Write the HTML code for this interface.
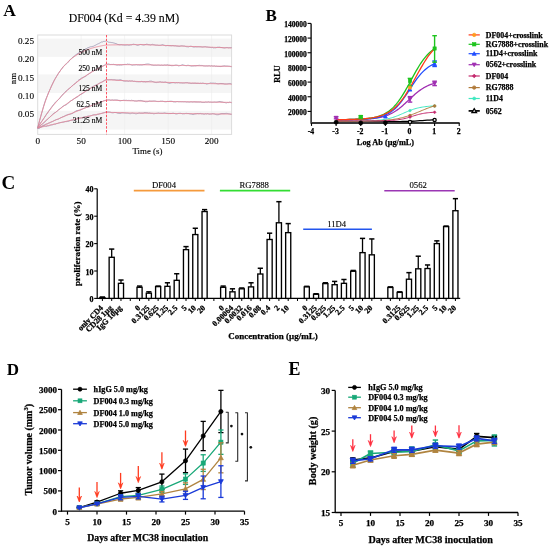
<!DOCTYPE html>
<html><head><meta charset="utf-8"><style>
html,body{margin:0;padding:0;background:#fff;}
svg{display:block;font-family:"Liberation Serif",serif;filter:blur(0.3px);}
</style></head><body>
<svg width="550" height="548" viewBox="0 0 550 548">
<rect x="0" y="0" width="550" height="548" fill="#fff"/>
<text x="3.2" y="15.8" font-size="17.5" font-weight="bold" text-anchor="start" fill="#000" >A</text>
<text x="123.9" y="22.3" font-size="11.8" font-weight="normal" text-anchor="middle" fill="#000" stroke="#000" stroke-width="0.12">DF004 (Kd = 4.39 nM)</text>
<rect x="37.7" y="35" width="193.9" height="99.4" fill="#fff" stroke="none" stroke-width="1.0" />
<rect x="38.2" y="38.6" width="192.9" height="18.3" fill="#f5f5f5" stroke="none" stroke-width="1.0" />
<rect x="38.2" y="74.4" width="192.9" height="18.6" fill="#f5f5f5" stroke="none" stroke-width="1.0" />
<rect x="38.2" y="110.8" width="192.9" height="18.8" fill="#f5f5f5" stroke="none" stroke-width="1.0" />
<line x1="81.17" y1="35" x2="81.17" y2="134.4" stroke="#ededed" stroke-width="0.6" />
<line x1="124.65" y1="35" x2="124.65" y2="134.4" stroke="#ededed" stroke-width="0.6" />
<line x1="168.12" y1="35" x2="168.12" y2="134.4" stroke="#ededed" stroke-width="0.6" />
<line x1="211.6" y1="35" x2="211.6" y2="134.4" stroke="#ededed" stroke-width="0.6" />
<rect x="37.7" y="35" width="193.9" height="99.4" fill="none" stroke="#dcdcdc" stroke-width="1.0" />
<text x="34" y="44.2" font-size="9.2" font-weight="normal" text-anchor="end" fill="#000" stroke="#000" stroke-width="0.12">0.25</text>
<text x="34" y="62" font-size="9.2" font-weight="normal" text-anchor="end" fill="#000" stroke="#000" stroke-width="0.12">0.20</text>
<text x="34" y="80.5" font-size="9.2" font-weight="normal" text-anchor="end" fill="#000" stroke="#000" stroke-width="0.12">0.15</text>
<text x="34" y="98.5" font-size="9.2" font-weight="normal" text-anchor="end" fill="#000" stroke="#000" stroke-width="0.12">0.10</text>
<text x="34" y="116.6" font-size="9.2" font-weight="normal" text-anchor="end" fill="#000" stroke="#000" stroke-width="0.12">0.05</text>
<text x="15.6" y="78.5" font-size="8.9" font-weight="normal" text-anchor="middle" fill="#000" transform="rotate(-90 15.6 78.5)" stroke="#000" stroke-width="0.12">nm</text>
<text x="37.7" y="143.9" font-size="9.2" font-weight="normal" text-anchor="middle" fill="#000" stroke="#000" stroke-width="0.12">0</text>
<text x="81.17" y="143.9" font-size="9.2" font-weight="normal" text-anchor="middle" fill="#000" stroke="#000" stroke-width="0.12">50</text>
<text x="124.65" y="143.9" font-size="9.2" font-weight="normal" text-anchor="middle" fill="#000" stroke="#000" stroke-width="0.12">100</text>
<text x="168.12" y="143.9" font-size="9.2" font-weight="normal" text-anchor="middle" fill="#000" stroke="#000" stroke-width="0.12">150</text>
<text x="211.6" y="143.9" font-size="9.2" font-weight="normal" text-anchor="middle" fill="#000" stroke="#000" stroke-width="0.12">200</text>
<text x="147.5" y="154.2" font-size="8.9" font-weight="normal" text-anchor="middle" fill="#000" stroke="#000" stroke-width="0.12">Time (s)</text>
<polyline points="37.7,128.03 38.68,124.04 39.67,120.42 40.65,116.89 41.63,113.34 42.61,109.87 43.6,106.26 44.58,103.01 45.56,100.09 46.55,97.5 47.53,95.22 48.51,92.65 49.49,90.63 50.48,88.45 51.46,85.95 52.44,84.05 53.43,81.86 54.41,79.89 55.39,78.25 56.37,76.62 57.36,75.09 58.34,73.4 59.32,72.06 60.31,70.7 61.29,69.27 62.27,68.02 63.25,66.7 64.24,65.61 65.22,64.86 66.2,64.03 67.19,63.29 68.17,62.26 69.15,60.99 70.13,59.77 71.12,58.77 72.1,57.79 73.08,56.99 74.07,56.3 75.05,55.43 76.03,54.69 77.01,53.96 78,53.35 78.98,52.76 79.96,52.37 80.95,51.96 81.93,51.4 82.91,50.76 83.89,50.01 84.88,49.29 85.86,48.75 86.84,48.4 87.83,47.73 88.81,47.43 89.79,47.07 90.77,46.74 91.76,46.67 92.74,46.36 93.72,46.13 94.71,45.54 95.69,45.09 96.67,44.5 97.65,44.03 98.64,43.61 99.62,43.1 100.6,42.55 101.59,41.98 102.57,41.94 103.55,41.43 104.53,41.38 105.52,41.2 106.5,40.66 107.46,41.54 108.42,42.1 109.39,42.29 110.35,42.36 111.31,42.55 112.27,42.6 113.24,42.85 114.2,43.08 115.16,43.43 116.12,43.58 117.09,44.15 118.05,44.54 119.01,44.6 119.97,44.94 120.93,44.61 121.9,44.78 122.86,44.97 123.82,44.99 124.78,45.13 125.75,45.09 126.71,45.04 127.67,45.01 128.63,45.24 129.6,45.13 130.56,44.91 131.52,44.85 132.48,44.44 133.44,44.19 134.41,44.4 135.37,44.53 136.33,44.96 137.29,45.32 138.26,45.22 139.22,44.84 140.18,44.49 141.14,44.57 142.11,44.74 143.07,44.99 144.03,45.01 144.99,44.66 145.95,44.36 146.92,44.17 147.88,44.45 148.84,44.72 149.8,44.74 150.77,44.96 151.73,44.53 152.69,44.33 153.65,44.69 154.62,44.86 155.58,45.13 156.54,45.21 157.5,45.2 158.46,45.4 159.43,45.42 160.39,45.34 161.35,45.05 162.31,44.61 163.28,44.93 164.24,45.23 165.2,45.69 166.16,45.78 167.13,45.43 168.09,45.55 169.05,45.62 170.01,45.75 170.97,45.68 171.94,45.81 172.9,45.52 173.86,45.77 174.82,45.86 175.79,45.8 176.75,46.14 177.71,46.17 178.67,46.32 179.64,46.37 180.6,46.03 181.56,45.83 182.52,45.9 183.48,46.02 184.45,46.07 185.41,46.42 186.37,46.66 187.33,46.75 188.3,46.91 189.26,46.57 190.22,46.3 191.18,46.26 192.15,46.62 193.11,46.93 194.07,47.1 195.03,46.84 195.99,46.81 196.96,46.94 197.92,46.76 198.88,46.76 199.84,46.79 200.81,46.82 201.77,46.98 202.73,47.05 203.69,46.86 204.66,46.73 205.62,46.65 206.58,46.99 207.54,47.08 208.5,47.25 209.47,47.36 210.43,47.47 211.39,47.63 212.35,47.42 213.32,47.86 214.28,47.75 215.24,47.83 216.2,47.71 217.17,47.25 218.13,47.31 219.09,47.05 220.05,47.35 221.01,47.44 221.98,47.61 222.94,47.75 223.9,47.96 224.86,47.95 225.83,47.72 226.79,47.51 227.75,47.58 228.71,47.82 229.68,47.63 230.64,47.67 231.6,47.52" fill="none" stroke="#9a94b0" stroke-width="0.8" stroke-linejoin="round" />
<polyline points="37.7,128 38.68,124.01 39.67,120.2 40.65,116.57 41.63,113.11 42.61,109.81 43.6,106.66 44.58,103.65 45.56,100.79 46.55,98.06 47.53,95.46 48.51,92.97 49.49,90.6 50.48,88.35 51.46,86.19 52.44,84.14 53.43,82.18 54.41,80.31 55.39,78.53 56.37,76.83 57.36,75.21 58.34,73.67 59.32,72.2 60.31,70.79 61.29,69.45 62.27,68.17 63.25,66.95 64.24,65.79 65.22,64.69 66.2,63.63 67.19,62.62 68.17,61.66 69.15,60.74 70.13,59.87 71.12,59.04 72.1,58.24 73.08,57.48 74.07,56.76 75.05,56.07 76.03,55.41 77.01,54.79 78,54.19 78.98,53.62 79.96,53.08 80.95,52.56 81.93,52.06 82.91,51.59 83.89,51.14 84.88,50.71 85.86,50.31 86.84,49.92 87.83,49.54 88.81,49.19 89.79,48.85 90.77,48.53 91.76,48.22 92.74,47.93 93.72,47.65 94.71,47.38 95.69,47.13 96.67,46.89 97.65,46.65 98.64,46.43 99.62,46.22 100.6,46.02 101.59,45.83 102.57,45.65 103.55,45.47 104.53,45.31 105.52,45.15 106.5,45 107.46,44.99 108.42,44.97 109.39,44.96 110.35,44.94 111.31,44.93 112.27,44.91 113.24,44.9 114.2,44.89 115.16,44.87 116.12,44.86 117.09,44.84 118.05,44.83 119.01,44.81 119.97,44.8 120.93,44.78 121.9,44.77 122.86,44.76 123.82,44.74 124.78,44.73 125.75,44.71 126.71,44.7 127.67,44.68 128.63,44.67 129.6,44.66 130.56,44.64 131.52,44.63 132.48,44.61 133.44,44.6 134.41,44.6 135.37,44.6 136.33,44.6 137.29,44.6 138.26,44.6 139.22,44.6 140.18,44.51 141.14,44.54 142.11,44.58 143.07,44.62 144.03,44.65 144.99,44.69 145.95,44.73 146.92,44.76 147.88,44.8 148.84,44.84 149.8,44.87 150.77,44.91 151.73,44.95 152.69,44.98 153.65,45.02 154.62,45.06 155.58,45.1 156.54,45.13 157.5,45.17 158.46,45.21 159.43,45.24 160.39,45.28 161.35,45.32 162.31,45.35 163.28,45.39 164.24,45.43 165.2,45.46 166.16,45.5 167.13,45.54 168.09,45.57 169.05,45.61 170.01,45.65 170.97,45.68 171.94,45.72 172.9,45.76 173.86,45.79 174.82,45.83 175.79,45.87 176.75,45.9 177.71,45.94 178.67,45.98 179.64,46.01 180.6,46.05 181.56,46.09 182.52,46.12 183.48,46.16 184.45,46.2 185.41,46.24 186.37,46.27 187.33,46.31 188.3,46.35 189.26,46.38 190.22,46.42 191.18,46.46 192.15,46.49 193.11,46.53 194.07,46.57 195.03,46.6 195.99,46.64 196.96,46.68 197.92,46.71 198.88,46.75 199.84,46.79 200.81,46.82 201.77,46.86 202.73,46.9 203.69,46.93 204.66,46.97 205.62,47.01 206.58,47.04 207.54,47.08 208.5,47.12 209.47,47.15 210.43,47.19 211.39,47.23 212.35,47.26 213.32,47.3 214.28,47.34 215.24,47.37 216.2,47.41 217.17,47.45 218.13,47.49 219.09,47.52 220.05,47.56 221.01,47.6 221.98,47.63 222.94,47.67 223.9,47.71 224.86,47.74 225.83,47.78 226.79,47.82 227.75,47.85 228.71,47.89 229.68,47.93 230.64,47.96 231.6,48" fill="none" stroke="#ea8496" stroke-width="0.8" stroke-linejoin="round" />
<polyline points="37.7,127.32 38.68,125.75 39.67,124.35 40.65,122.75 41.63,121.49 42.61,120.22 43.6,118.7 44.58,117.32 45.56,115.66 46.55,114.07 47.53,112.93 48.51,111.33 49.49,110.04 50.48,108.73 51.46,107.28 52.44,105.95 53.43,104.62 54.41,103.54 55.39,102.19 56.37,101.41 57.36,100.69 58.34,99.65 59.32,98.85 60.31,97.62 61.29,96.16 62.27,95.05 63.25,93.86 64.24,92.98 65.22,92.06 66.2,90.99 67.19,90.29 68.17,89.19 69.15,88.44 70.13,87.94 71.12,86.78 72.1,85.86 73.08,85.18 74.07,84.16 75.05,83.54 76.03,82.69 77.01,81.75 78,80.68 78.98,79.73 79.96,79.36 80.95,78.44 81.93,77.89 82.91,77.6 83.89,77.06 84.88,76.62 85.86,76.21 86.84,75.36 87.83,74.45 88.81,74.03 89.79,73.1 90.77,72.61 91.76,71.78 92.74,71.2 93.72,70.9 94.71,70.13 95.69,69.92 96.67,69.15 97.65,68.67 98.64,67.96 99.62,67.35 100.6,67.06 101.59,66.64 102.57,66.2 103.55,65.57 104.53,65.11 105.52,64.31 106.5,63.76 107.46,64.12 108.42,63.93 109.39,64.22 110.35,64.51 111.31,64.45 112.27,64.49 113.24,64.28 114.2,64.55 115.16,64.66 116.12,64.89 117.09,65.24 118.05,64.9 119.01,65.05 119.97,65.11 120.93,64.9 121.9,65.09 122.86,64.65 123.82,64.6 124.78,64.43 125.75,64.41 126.71,64.43 127.67,64.05 128.63,64.3 129.6,64.28 130.56,64.58 131.52,64.98 132.48,65.19 133.44,64.97 134.41,64.95 135.37,64.84 136.33,64.66 137.29,64.91 138.26,64.87 139.22,65.04 140.18,64.93 141.14,64.95 142.11,65.04 143.07,64.63 144.03,64.64 144.99,64.42 145.95,64.13 146.92,64.1 147.88,63.99 148.84,64.08 149.8,64.3 150.77,64.63 151.73,64.99 152.69,65.15 153.65,65.38 154.62,65.3 155.58,65.27 156.54,65.33 157.5,65.2 158.46,65.15 159.43,65.27 160.39,65.41 161.35,65.16 162.31,65.33 163.28,65.38 164.24,65 165.2,65.1 166.16,65.23 167.13,64.73 168.09,65.13 169.05,65.29 170.01,65.31 170.97,65.61 171.94,65.73 172.9,65.62 173.86,65.55 174.82,65.3 175.79,65.1 176.75,65.16 177.71,65.4 178.67,65.91 179.64,65.7 180.6,65.51 181.56,65.06 182.52,64.66 183.48,65 184.45,65.3 185.41,65.54 186.37,65.71 187.33,65.33 188.3,65.27 189.26,65.54 190.22,65.75 191.18,66.08 192.15,65.99 193.11,65.97 194.07,65.77 195.03,65.81 195.99,65.83 196.96,65.52 197.92,65.5 198.88,65.39 199.84,65.31 200.81,65.51 201.77,65.43 202.73,65.56 203.69,65.91 204.66,65.95 205.62,66.03 206.58,65.88 207.54,65.97 208.5,65.82 209.47,65.76 210.43,66.12 211.39,65.73 212.35,66.02 213.32,66.11 214.28,65.84 215.24,66.39 216.2,66.16 217.17,66.41 218.13,66.45 219.09,66.43 220.05,66.6 221.01,66.49 221.98,66.33 222.94,66.05 223.9,65.94 224.86,65.85 225.83,66.11 226.79,66.05 227.75,66.07 228.71,66.22 229.68,66.31 230.64,66.62 231.6,66.77" fill="none" stroke="#9a94b0" stroke-width="0.8" stroke-linejoin="round" />
<polyline points="37.7,128 38.68,126.37 39.67,124.77 40.65,123.2 41.63,121.66 42.61,120.15 43.6,118.66 44.58,117.21 45.56,115.78 46.55,114.38 47.53,113.01 48.51,111.66 49.49,110.34 50.48,109.05 51.46,107.78 52.44,106.53 53.43,105.31 54.41,104.11 55.39,102.93 56.37,101.78 57.36,100.64 58.34,99.53 59.32,98.44 60.31,97.37 61.29,96.32 62.27,95.3 63.25,94.29 64.24,93.3 65.22,92.32 66.2,91.37 67.19,90.44 68.17,89.52 69.15,88.62 70.13,87.74 71.12,86.87 72.1,86.02 73.08,85.19 74.07,84.37 75.05,83.57 76.03,82.79 77.01,82.02 78,81.26 78.98,80.52 79.96,79.79 80.95,79.07 81.93,78.37 82.91,77.69 83.89,77.01 84.88,76.35 85.86,75.7 86.84,75.07 87.83,74.44 88.81,73.83 89.79,73.23 90.77,72.64 91.76,72.06 92.74,71.49 93.72,70.94 94.71,70.39 95.69,69.86 96.67,69.33 97.65,68.82 98.64,68.31 99.62,67.82 100.6,67.33 101.59,66.85 102.57,66.38 103.55,65.93 104.53,65.48 105.52,65.03 106.5,64.6 107.46,64.6 108.42,64.61 109.39,64.61 110.35,64.61 111.31,64.61 112.27,64.62 113.24,64.62 114.2,64.62 115.16,64.63 116.12,64.63 117.09,64.63 118.05,64.63 119.01,64.64 119.97,64.64 120.93,64.64 121.9,64.65 122.86,64.65 123.82,64.65 124.78,64.65 125.75,64.66 126.71,64.66 127.67,64.66 128.63,64.67 129.6,64.67 130.56,64.67 131.52,64.67 132.48,64.68 133.44,64.68 134.41,64.68 135.37,64.69 136.33,64.69 137.29,64.69 138.26,64.69 139.22,64.7 140.18,64.7 141.14,64.72 142.11,64.74 143.07,64.76 144.03,64.77 144.99,64.79 145.95,64.81 146.92,64.83 147.88,64.85 148.84,64.86 149.8,64.88 150.77,64.9 151.73,64.92 152.69,64.94 153.65,64.95 154.62,64.97 155.58,64.99 156.54,65.01 157.5,65.02 158.46,65.04 159.43,65.06 160.39,65.08 161.35,65.1 162.31,65.11 163.28,65.13 164.24,65.15 165.2,65.17 166.16,65.19 167.13,65.2 168.09,65.22 169.05,65.24 170.01,65.26 170.97,65.27 171.94,65.29 172.9,65.31 173.86,65.33 174.82,65.35 175.79,65.36 176.75,65.38 177.71,65.4 178.67,65.42 179.64,65.44 180.6,65.45 181.56,65.47 182.52,65.49 183.48,65.51 184.45,65.52 185.41,65.54 186.37,65.56 187.33,65.58 188.3,65.6 189.26,65.61 190.22,65.63 191.18,65.65 192.15,65.67 193.11,65.69 194.07,65.7 195.03,65.72 195.99,65.74 196.96,65.76 197.92,65.77 198.88,65.79 199.84,65.81 200.81,65.83 201.77,65.85 202.73,65.86 203.69,65.88 204.66,65.9 205.62,65.92 206.58,65.94 207.54,65.95 208.5,65.97 209.47,65.99 210.43,66.01 211.39,66.02 212.35,66.04 213.32,66.06 214.28,66.08 215.24,66.1 216.2,66.11 217.17,66.13 218.13,66.15 219.09,66.17 220.05,66.19 221.01,66.2 221.98,66.22 222.94,66.24 223.9,66.26 224.86,66.27 225.83,66.29 226.79,66.31 227.75,66.33 228.71,66.35 229.68,66.36 230.64,66.38 231.6,66.4" fill="none" stroke="#ea8496" stroke-width="0.8" stroke-linejoin="round" />
<polyline points="37.7,128.32 38.68,127.27 39.67,126.42 40.65,125.31 41.63,124.58 42.61,123.98 43.6,123.12 44.58,122.35 45.56,121.24 46.55,120.17 47.53,119.18 48.51,118.33 49.49,117.51 50.48,116.58 51.46,115.43 52.44,114.48 53.43,113.56 54.41,112.88 55.39,112.56 56.37,111.7 57.36,110.86 58.34,110.12 59.32,109.02 60.31,108.45 61.29,107.72 62.27,106.66 63.25,106.11 64.24,105.43 65.22,105.14 66.2,104.85 67.19,103.95 68.17,103.25 69.15,102.32 70.13,101.37 71.12,100.7 72.1,100.21 73.08,99.63 74.07,98.76 75.05,98.26 76.03,97.59 77.01,97.08 78,96.66 78.98,95.64 79.96,94.92 80.95,94.3 81.93,93.77 82.91,93.37 83.89,92.52 84.88,91.81 85.86,90.85 86.84,90.45 87.83,89.91 88.81,88.95 89.79,88.75 90.77,87.95 91.76,87.16 92.74,86.64 93.72,86.09 94.71,85.4 95.69,85.21 96.67,85 97.65,84.02 98.64,83.62 99.62,83.07 100.6,82.36 101.59,82.25 102.57,81.69 103.55,81.07 104.53,80.39 105.52,79.85 106.5,79.59 107.46,79.68 108.42,79.85 109.39,79.68 110.35,79.63 111.31,79.48 112.27,79.66 113.24,79.71 114.2,79.65 115.16,79.82 116.12,80.07 117.09,80.07 118.05,80.07 119.01,80.05 119.97,79.66 120.93,79.86 121.9,80.25 122.86,80.71 123.82,81.03 124.78,81.09 125.75,81.16 126.71,81.01 127.67,81.1 128.63,81.28 129.6,80.9 130.56,81.12 131.52,80.94 132.48,80.93 133.44,81.45 134.41,81.34 135.37,81.53 136.33,81.69 137.29,81.73 138.26,81.82 139.22,81.72 140.18,81.85 141.14,81.39 142.11,81.46 143.07,81.95 144.03,81.58 144.99,81.89 145.95,81.93 146.92,81.56 147.88,81.63 148.84,81.41 149.8,81.13 150.77,81.13 151.73,81.18 152.69,81.59 153.65,81.91 154.62,82.29 155.58,82.52 156.54,82.57 157.5,82.3 158.46,82.21 159.43,81.89 160.39,81.75 161.35,82.16 162.31,82.14 163.28,82.32 164.24,82.23 165.2,82.01 166.16,82.28 167.13,82.68 168.09,82.96 169.05,83.32 170.01,83.26 170.97,82.91 171.94,82.76 172.9,82.65 173.86,82.64 174.82,82.89 175.79,82.94 176.75,82.65 177.71,82.82 178.67,82.59 179.64,82.89 180.6,82.91 181.56,82.95 182.52,83.06 183.48,83 184.45,82.96 185.41,82.69 186.37,82.65 187.33,82.61 188.3,83 189.26,83.04 190.22,83.31 191.18,83.5 192.15,83.21 193.11,83.29 194.07,83.31 195.03,83.14 195.99,83.26 196.96,83.46 197.92,83.25 198.88,83.4 199.84,83.54 200.81,83.16 201.77,83.51 202.73,83.11 203.69,83.32 204.66,83.6 205.62,83.65 206.58,84.08 207.54,83.89 208.5,83.66 209.47,83.36 210.43,82.94 211.39,83.11 212.35,83.11 213.32,83.09 214.28,83.25 215.24,83.14 216.2,83.5 217.17,83.67 218.13,83.84 219.09,83.7 220.05,83.53 221.01,83.43 221.98,83.58 222.94,83.57 223.9,83.75 224.86,84.05 225.83,83.95 226.79,83.99 227.75,83.81 228.71,83.59 229.68,83.49 230.64,83.63 231.6,84.06" fill="none" stroke="#9a94b0" stroke-width="0.8" stroke-linejoin="round" />
<polyline points="37.7,128 38.68,127.07 39.67,126.15 40.65,125.24 41.63,124.34 42.61,123.45 43.6,122.56 44.58,121.68 45.56,120.81 46.55,119.95 47.53,119.1 48.51,118.25 49.49,117.41 50.48,116.58 51.46,115.75 52.44,114.94 53.43,114.13 54.41,113.33 55.39,112.53 56.37,111.74 57.36,110.96 58.34,110.19 59.32,109.42 60.31,108.66 61.29,107.91 62.27,107.16 63.25,106.42 64.24,105.69 65.22,104.96 66.2,104.24 67.19,103.53 68.17,102.82 69.15,102.12 70.13,101.43 71.12,100.74 72.1,100.06 73.08,99.38 74.07,98.71 75.05,98.05 76.03,97.39 77.01,96.74 78,96.1 78.98,95.46 79.96,94.82 80.95,94.19 81.93,93.57 82.91,92.95 83.89,92.34 84.88,91.74 85.86,91.14 86.84,90.54 87.83,89.95 88.81,89.37 89.79,88.79 90.77,88.21 91.76,87.64 92.74,87.08 93.72,86.52 94.71,85.97 95.69,85.42 96.67,84.88 97.65,84.34 98.64,83.8 99.62,83.27 100.6,82.75 101.59,82.23 102.57,81.71 103.55,81.2 104.53,80.7 105.52,80.2 106.5,79.7 107.46,79.75 108.42,79.81 109.39,79.86 110.35,79.92 111.31,79.97 112.27,80.03 113.24,80.08 114.2,80.14 115.16,80.19 116.12,80.25 117.09,80.3 118.05,80.35 119.01,80.41 119.97,80.46 120.93,80.52 121.9,80.57 122.86,80.63 123.82,80.68 124.78,80.74 125.75,80.79 126.71,80.85 127.67,80.9 128.63,80.96 129.6,81.01 130.56,81.06 131.52,81.12 132.48,81.17 133.44,81.23 134.41,81.28 135.37,81.34 136.33,81.39 137.29,81.45 138.26,81.5 139.22,81.56 140.18,81.61 141.14,81.63 142.11,81.66 143.07,81.69 144.03,81.71 144.99,81.74 145.95,81.77 146.92,81.8 147.88,81.82 148.84,81.85 149.8,81.88 150.77,81.91 151.73,81.93 152.69,81.96 153.65,81.99 154.62,82.01 155.58,82.04 156.54,82.07 157.5,82.1 158.46,82.12 159.43,82.15 160.39,82.18 161.35,82.21 162.31,82.23 163.28,82.26 164.24,82.29 165.2,82.32 166.16,82.34 167.13,82.37 168.09,82.4 169.05,82.42 170.01,82.45 170.97,82.48 171.94,82.51 172.9,82.53 173.86,82.56 174.82,82.59 175.79,82.62 176.75,82.64 177.71,82.67 178.67,82.7 179.64,82.73 180.6,82.75 181.56,82.78 182.52,82.81 183.48,82.83 184.45,82.86 185.41,82.89 186.37,82.92 187.33,82.94 188.3,82.97 189.26,83 190.22,83.03 191.18,83.05 192.15,83.08 193.11,83.11 194.07,83.13 195.03,83.16 195.99,83.19 196.96,83.22 197.92,83.24 198.88,83.27 199.84,83.3 200.81,83.33 201.77,83.35 202.73,83.38 203.69,83.41 204.66,83.44 205.62,83.46 206.58,83.49 207.54,83.52 208.5,83.54 209.47,83.57 210.43,83.6 211.39,83.63 212.35,83.65 213.32,83.68 214.28,83.71 215.24,83.74 216.2,83.76 217.17,83.79 218.13,83.82 219.09,83.84 220.05,83.87 221.01,83.9 221.98,83.93 222.94,83.95 223.9,83.98 224.86,84.01 225.83,84.04 226.79,84.06 227.75,84.09 228.71,84.12 229.68,84.15 230.64,84.17 231.6,84.2" fill="none" stroke="#ea8496" stroke-width="0.8" stroke-linejoin="round" />
<polyline points="37.7,128.16 38.68,128.06 39.67,127.86 40.65,127.07 41.63,126.71 42.61,126.04 43.6,125.31 44.58,125.08 45.56,124.27 46.55,124.02 47.53,123.89 48.51,123.21 49.49,122.89 50.48,122.4 51.46,121.93 52.44,121.63 53.43,121.07 54.41,120.43 55.39,120.02 56.37,119.56 57.36,119.42 58.34,119.19 59.32,118.59 60.31,117.98 61.29,117.54 62.27,116.95 63.25,116.65 64.24,116.25 65.22,115.55 66.2,115.18 67.19,114.83 68.17,114.42 69.15,114.36 70.13,114.19 71.12,113.79 72.1,113.73 73.08,113.04 74.07,112.23 75.05,111.64 76.03,110.9 77.01,110.6 78,110.57 78.98,110.16 79.96,110.17 80.95,109.79 81.93,109.08 82.91,108.89 83.89,108.27 84.88,107.82 85.86,107.63 86.84,107.43 87.83,107.22 88.81,106.82 89.79,106.67 90.77,105.84 91.76,105.27 92.74,104.94 93.72,104.6 94.71,104.12 95.69,103.88 96.67,103.58 97.65,102.75 98.64,102.73 99.62,102.44 100.6,102.21 101.59,101.8 102.57,101.52 103.55,100.89 104.53,100.57 105.52,100.47 106.5,99.71 107.46,100 108.42,99.9 109.39,99.89 110.35,100.25 111.31,100.13 112.27,99.89 113.24,100.18 114.2,100.03 115.16,99.98 116.12,100.03 117.09,99.96 118.05,100.33 119.01,100.47 119.97,100.92 120.93,100.74 121.9,100.49 122.86,100.43 123.82,100.18 124.78,100.34 125.75,100.34 126.71,100.25 127.67,100.5 128.63,100.39 129.6,100.46 130.56,100.56 131.52,100.24 132.48,100.46 133.44,100.51 134.41,100.95 135.37,100.96 136.33,101.09 137.29,100.9 138.26,100.51 139.22,100.54 140.18,100.4 141.14,100.59 142.11,100.69 143.07,101.23 144.03,101.28 144.99,101.61 145.95,101.94 146.92,101.6 147.88,101.66 148.84,101.27 149.8,100.99 150.77,101.2 151.73,101.16 152.69,101.12 153.65,100.97 154.62,101.03 155.58,101.12 156.54,101.44 157.5,101.54 158.46,101.56 159.43,101.5 160.39,101.24 161.35,101.22 162.31,101.15 163.28,101.38 164.24,101.64 165.2,101.72 166.16,101.79 167.13,101.38 168.09,101.42 169.05,101.5 170.01,101.14 170.97,101.32 171.94,101.26 172.9,101.55 173.86,101.94 174.82,101.83 175.79,101.92 176.75,101.57 177.71,101.55 178.67,101.73 179.64,101.73 180.6,101.69 181.56,101.74 182.52,101.72 183.48,101.8 184.45,101.75 185.41,101.78 186.37,102.02 187.33,101.94 188.3,102.01 189.26,102.13 190.22,101.93 191.18,101.77 192.15,102.05 193.11,102.03 194.07,101.79 195.03,101.96 195.99,101.98 196.96,102.03 197.92,102.01 198.88,101.99 199.84,102.06 200.81,101.93 201.77,102.4 202.73,102.49 203.69,102.45 204.66,102.44 205.62,102.07 206.58,102.19 207.54,102.14 208.5,101.83 209.47,102.2 210.43,102.12 211.39,102.22 212.35,102.25 213.32,102.2 214.28,102.02 215.24,102.12 216.2,102.19 217.17,102 218.13,101.88 219.09,101.46 220.05,101.57 221.01,101.78 221.98,101.97 222.94,102.13 223.9,102.49 224.86,102.51 225.83,102.83 226.79,102.85 227.75,102.45 228.71,102.6 229.68,102.12 230.64,102.4 231.6,102.83" fill="none" stroke="#9a94b0" stroke-width="0.8" stroke-linejoin="round" />
<polyline points="37.7,128 38.68,127.55 39.67,127.1 40.65,126.66 41.63,126.21 42.61,125.77 43.6,125.33 44.58,124.89 45.56,124.45 46.55,124.02 47.53,123.58 48.51,123.15 49.49,122.72 50.48,122.29 51.46,121.86 52.44,121.43 53.43,121 54.41,120.58 55.39,120.15 56.37,119.73 57.36,119.31 58.34,118.89 59.32,118.47 60.31,118.06 61.29,117.64 62.27,117.23 63.25,116.82 64.24,116.41 65.22,116 66.2,115.59 67.19,115.18 68.17,114.78 69.15,114.37 70.13,113.97 71.12,113.57 72.1,113.17 73.08,112.77 74.07,112.37 75.05,111.98 76.03,111.58 77.01,111.19 78,110.8 78.98,110.41 79.96,110.02 80.95,109.63 81.93,109.25 82.91,108.86 83.89,108.48 84.88,108.1 85.86,107.71 86.84,107.33 87.83,106.96 88.81,106.58 89.79,106.2 90.77,105.83 91.76,105.45 92.74,105.08 93.72,104.71 94.71,104.34 95.69,103.97 96.67,103.6 97.65,103.24 98.64,102.87 99.62,102.51 100.6,102.15 101.59,101.79 102.57,101.43 103.55,101.07 104.53,100.71 105.52,100.36 106.5,100 107.46,100.03 108.42,100.06 109.39,100.09 110.35,100.13 111.31,100.16 112.27,100.19 113.24,100.22 114.2,100.25 115.16,100.28 116.12,100.32 117.09,100.35 118.05,100.38 119.01,100.41 119.97,100.44 120.93,100.47 121.9,100.51 122.86,100.54 123.82,100.57 124.78,100.6 125.75,100.63 126.71,100.66 127.67,100.7 128.63,100.73 129.6,100.76 130.56,100.79 131.52,100.82 132.48,100.85 133.44,100.88 134.41,100.92 135.37,100.95 136.33,100.98 137.29,101.01 138.26,101.04 139.22,101.07 140.18,101.1 141.14,101.12 142.11,101.13 143.07,101.14 144.03,101.16 144.99,101.17 145.95,101.18 146.92,101.2 147.88,101.21 148.84,101.23 149.8,101.24 150.77,101.25 151.73,101.27 152.69,101.28 153.65,101.29 154.62,101.31 155.58,101.32 156.54,101.33 157.5,101.35 158.46,101.36 159.43,101.38 160.39,101.39 161.35,101.4 162.31,101.42 163.28,101.43 164.24,101.44 165.2,101.46 166.16,101.47 167.13,101.48 168.09,101.5 169.05,101.51 170.01,101.53 170.97,101.54 171.94,101.55 172.9,101.57 173.86,101.58 174.82,101.59 175.79,101.61 176.75,101.62 177.71,101.64 178.67,101.65 179.64,101.66 180.6,101.68 181.56,101.69 182.52,101.7 183.48,101.72 184.45,101.73 185.41,101.74 186.37,101.76 187.33,101.77 188.3,101.79 189.26,101.8 190.22,101.81 191.18,101.83 192.15,101.84 193.11,101.85 194.07,101.87 195.03,101.88 195.99,101.89 196.96,101.91 197.92,101.92 198.88,101.94 199.84,101.95 200.81,101.96 201.77,101.98 202.73,101.99 203.69,102 204.66,102.02 205.62,102.03 206.58,102.04 207.54,102.06 208.5,102.07 209.47,102.09 210.43,102.1 211.39,102.11 212.35,102.13 213.32,102.14 214.28,102.15 215.24,102.17 216.2,102.18 217.17,102.2 218.13,102.21 219.09,102.22 220.05,102.24 221.01,102.25 221.98,102.26 222.94,102.28 223.9,102.29 224.86,102.3 225.83,102.32 226.79,102.33 227.75,102.35 228.71,102.36 229.68,102.37 230.64,102.39 231.6,102.4" fill="none" stroke="#ea8496" stroke-width="0.8" stroke-linejoin="round" />
<polyline points="37.7,128.29 38.68,128.33 39.67,127.87 40.65,127.27 41.63,126.68 42.61,126.34 43.6,126.18 44.58,125.92 45.56,126.18 46.55,126.29 47.53,125.94 48.51,125.9 49.49,125.63 50.48,125.17 51.46,124.97 52.44,124.87 53.43,124.45 54.41,124.24 55.39,124.23 56.37,123.7 57.36,123.55 58.34,123.13 59.32,122.84 60.31,122.6 61.29,122.43 62.27,122.25 63.25,122.19 64.24,121.92 65.22,121.65 66.2,121.7 67.19,121.42 68.17,121.39 69.15,121.07 70.13,120.54 71.12,120.3 72.1,120.21 73.08,119.97 74.07,119.86 75.05,119.67 76.03,119.33 77.01,118.88 78,118.44 78.98,118.13 79.96,117.89 80.95,117.92 81.93,117.87 82.91,117.24 83.89,117.17 84.88,116.85 85.86,116.65 86.84,116.66 87.83,116.07 88.81,116.17 89.79,116.22 90.77,115.76 91.76,115.49 92.74,114.96 93.72,114.75 94.71,114.79 95.69,115.04 96.67,114.8 97.65,114.31 98.64,114.28 99.62,113.92 100.6,113.68 101.59,113.44 102.57,113.1 103.55,112.74 104.53,112.46 105.52,112.12 106.5,111.96 107.46,111.9 108.42,111.93 109.39,111.99 110.35,112.16 111.31,112.62 112.27,112.82 113.24,112.81 114.2,112.53 115.16,112.5 116.12,112.58 117.09,112.98 118.05,113.25 119.01,113.24 119.97,113.43 120.93,113.24 121.9,112.87 122.86,112.88 123.82,112.96 124.78,113.07 125.75,113.13 126.71,113.24 127.67,113.22 128.63,113.39 129.6,113.64 130.56,113.67 131.52,113.31 132.48,113.14 133.44,113.35 134.41,113.4 135.37,113.74 136.33,113.77 137.29,113.59 138.26,113.28 139.22,112.99 140.18,113.18 141.14,113.17 142.11,113.16 143.07,113.23 144.03,112.84 144.99,112.63 145.95,112.81 146.92,112.8 147.88,112.89 148.84,113.26 149.8,112.96 150.77,113.33 151.73,113.39 152.69,113.4 153.65,113.81 154.62,113.67 155.58,113.48 156.54,113.4 157.5,113.2 158.46,113.01 159.43,113.27 160.39,113.29 161.35,113.27 162.31,113.33 163.28,113.18 164.24,112.91 165.2,113.05 166.16,113.37 167.13,113.32 168.09,113.6 169.05,113.6 170.01,113.48 170.97,113.62 171.94,113.41 172.9,113.25 173.86,113.31 174.82,113.61 175.79,113.92 176.75,113.93 177.71,113.69 178.67,113.39 179.64,113.33 180.6,113.32 181.56,113.53 182.52,113.82 183.48,113.74 184.45,113.72 185.41,113.47 186.37,113.35 187.33,113.47 188.3,113.5 189.26,113.72 190.22,113.92 191.18,113.93 192.15,114.32 193.11,114.5 194.07,114.16 195.03,113.88 195.99,113.9 196.96,113.6 197.92,113.52 198.88,113.75 199.84,113.53 200.81,113.43 201.77,113.89 202.73,113.82 203.69,114.11 204.66,114.17 205.62,113.71 206.58,113.96 207.54,113.59 208.5,113.95 209.47,114.2 210.43,114.09 211.39,114 212.35,113.65 213.32,113.76 214.28,113.92 215.24,114.32 216.2,114.68 217.17,114.74 218.13,114.76 219.09,114.45 220.05,114.03 221.01,113.75 221.98,113.54 222.94,113.63 223.9,113.59 224.86,113.54 225.83,113.38 226.79,113.37 227.75,113.54 228.71,113.79 229.68,114.01 230.64,114.3 231.6,114.35" fill="none" stroke="#9a94b0" stroke-width="0.8" stroke-linejoin="round" />
<polyline points="37.7,128 38.68,127.77 39.67,127.53 40.65,127.3 41.63,127.06 42.61,126.83 43.6,126.6 44.58,126.36 45.56,126.13 46.55,125.9 47.53,125.66 48.51,125.43 49.49,125.2 50.48,124.97 51.46,124.74 52.44,124.51 53.43,124.28 54.41,124.05 55.39,123.82 56.37,123.59 57.36,123.36 58.34,123.13 59.32,122.9 60.31,122.68 61.29,122.45 62.27,122.22 63.25,121.99 64.24,121.77 65.22,121.54 66.2,121.31 67.19,121.09 68.17,120.86 69.15,120.64 70.13,120.41 71.12,120.19 72.1,119.96 73.08,119.74 74.07,119.52 75.05,119.29 76.03,119.07 77.01,118.85 78,118.62 78.98,118.4 79.96,118.18 80.95,117.96 81.93,117.74 82.91,117.52 83.89,117.3 84.88,117.07 85.86,116.85 86.84,116.63 87.83,116.42 88.81,116.2 89.79,115.98 90.77,115.76 91.76,115.54 92.74,115.32 93.72,115.1 94.71,114.89 95.69,114.67 96.67,114.45 97.65,114.24 98.64,114.02 99.62,113.8 100.6,113.59 101.59,113.37 102.57,113.16 103.55,112.94 104.53,112.73 105.52,112.51 106.5,112.3 107.46,112.32 108.42,112.35 109.39,112.37 110.35,112.39 111.31,112.41 112.27,112.44 113.24,112.46 114.2,112.48 115.16,112.51 116.12,112.53 117.09,112.55 118.05,112.58 119.01,112.6 119.97,112.62 120.93,112.64 121.9,112.67 122.86,112.69 123.82,112.71 124.78,112.74 125.75,112.76 126.71,112.78 127.67,112.81 128.63,112.83 129.6,112.85 130.56,112.87 131.52,112.9 132.48,112.92 133.44,112.94 134.41,112.97 135.37,112.99 136.33,113.01 137.29,113.04 138.26,113.06 139.22,113.08 140.18,113.1 141.14,113.11 142.11,113.12 143.07,113.13 144.03,113.14 144.99,113.15 145.95,113.17 146.92,113.18 147.88,113.19 148.84,113.2 149.8,113.21 150.77,113.22 151.73,113.23 152.69,113.24 153.65,113.25 154.62,113.26 155.58,113.27 156.54,113.28 157.5,113.29 158.46,113.3 159.43,113.31 160.39,113.32 161.35,113.33 162.31,113.34 163.28,113.35 164.24,113.36 165.2,113.38 166.16,113.39 167.13,113.4 168.09,113.41 169.05,113.42 170.01,113.43 170.97,113.44 171.94,113.45 172.9,113.46 173.86,113.47 174.82,113.48 175.79,113.49 176.75,113.5 177.71,113.51 178.67,113.52 179.64,113.53 180.6,113.54 181.56,113.55 182.52,113.56 183.48,113.57 184.45,113.59 185.41,113.6 186.37,113.61 187.33,113.62 188.3,113.63 189.26,113.64 190.22,113.65 191.18,113.66 192.15,113.67 193.11,113.68 194.07,113.69 195.03,113.7 195.99,113.71 196.96,113.72 197.92,113.73 198.88,113.74 199.84,113.75 200.81,113.76 201.77,113.77 202.73,113.78 203.69,113.8 204.66,113.81 205.62,113.82 206.58,113.83 207.54,113.84 208.5,113.85 209.47,113.86 210.43,113.87 211.39,113.88 212.35,113.89 213.32,113.9 214.28,113.91 215.24,113.92 216.2,113.93 217.17,113.94 218.13,113.95 219.09,113.96 220.05,113.97 221.01,113.98 221.98,113.99 222.94,114.01 223.9,114.02 224.86,114.03 225.83,114.04 226.79,114.05 227.75,114.06 228.71,114.07 229.68,114.08 230.64,114.09 231.6,114.1" fill="none" stroke="#ea8496" stroke-width="0.8" stroke-linejoin="round" />
<line x1="106.5" y1="35" x2="106.5" y2="134.4" stroke="#ff4050" stroke-width="0.9" stroke-dasharray="2.4 1.4"/>
<text x="102.3" y="54.6" font-size="7.6" font-weight="normal" text-anchor="end" fill="#000" stroke="#000" stroke-width="0.12">500 nM</text>
<text x="102.3" y="71.2" font-size="7.6" font-weight="normal" text-anchor="end" fill="#000" stroke="#000" stroke-width="0.12">250 nM</text>
<text x="102.3" y="90.6" font-size="7.6" font-weight="normal" text-anchor="end" fill="#000" stroke="#000" stroke-width="0.12">125 nM</text>
<text x="102.3" y="107.3" font-size="7.6" font-weight="normal" text-anchor="end" fill="#000" stroke="#000" stroke-width="0.12">62.5 nM</text>
<text x="102.3" y="123.4" font-size="7.6" font-weight="normal" text-anchor="end" fill="#000" stroke="#000" stroke-width="0.12">31.25 nM</text>
<text x="265.5" y="20.7" font-size="17" font-weight="bold" text-anchor="start" fill="#000" >B</text>
<polyline points="336.12,122 338.58,121.99 341.04,121.98 343.51,121.97 345.97,121.96 348.43,121.95 350.89,121.94 353.35,121.93 355.82,121.92 358.28,121.91 360.74,121.9 363.2,121.89 365.66,121.88 368.13,121.87 370.59,121.86 373.05,121.85 375.51,121.84 377.97,121.83 380.44,121.82 382.9,121.81 385.36,121.8 387.82,121.76 390.28,121.72 392.75,121.68 395.21,121.64 397.67,121.6 400.13,121.56 402.59,121.52 405.06,121.48 407.52,121.44 409.98,121.4 412.44,121.23 414.9,121.06 417.37,120.89 419.83,120.72 422.29,120.55 424.75,120.38 427.21,120.21 429.68,120.04 432.14,119.87 434.6,119.7" fill="none" stroke="#000000" stroke-width="1.3" stroke-linejoin="round" />
<polyline points="336.12,121.07 337.35,121.07 338.58,121.07 339.81,121.07 341.04,121.06 342.27,121.06 343.51,121.06 344.74,121.06 345.97,121.05 347.2,121.05 348.43,121.05 349.66,121.04 350.89,121.04 352.12,121.03 353.35,121.02 354.58,121.02 355.82,121.01 357.05,121 358.28,120.98 359.51,120.97 360.74,120.95 361.97,120.94 363.2,120.92 364.43,120.89 365.66,120.86 366.89,120.83 368.13,120.8 369.36,120.75 370.59,120.71 371.82,120.65 373.05,120.59 374.28,120.52 375.51,120.44 376.74,120.35 377.97,120.25 379.2,120.13 380.44,120 381.67,119.85 382.9,119.68 384.13,119.49 385.36,119.28 386.59,119.05 387.82,118.79 389.05,118.5 390.28,118.19 391.51,117.84 392.75,117.47 393.98,117.07 395.21,116.64 396.44,116.18 397.67,115.7 398.9,115.2 400.13,114.68 401.36,114.14 402.59,113.6 403.82,113.06 405.06,112.52 406.29,111.98 407.52,111.46 408.75,110.95 409.98,110.47 411.21,110.01 412.44,109.57 413.67,109.16 414.9,108.79 416.13,108.44 417.37,108.12 418.6,107.82 419.83,107.56 421.06,107.32 422.29,107.11 423.52,106.92 424.75,106.74 425.98,106.59 427.21,106.46 428.44,106.34 429.68,106.23 430.91,106.14 432.14,106.06 433.37,105.99 434.6,105.92" fill="none" stroke="#3ee8c0" stroke-width="1.0" stroke-linejoin="round" />
<polyline points="336.12,121.3 337.35,121.29 338.58,121.29 339.81,121.29 341.04,121.29 342.27,121.28 343.51,121.28 344.74,121.28 345.97,121.27 347.2,121.27 348.43,121.27 349.66,121.26 350.89,121.25 352.12,121.25 353.35,121.24 354.58,121.23 355.82,121.22 357.05,121.21 358.28,121.2 359.51,121.19 360.74,121.18 361.97,121.16 363.2,121.15 364.43,121.13 365.66,121.11 366.89,121.09 368.13,121.06 369.36,121.03 370.59,121 371.82,120.97 373.05,120.93 374.28,120.89 375.51,120.85 376.74,120.8 377.97,120.75 379.2,120.69 380.44,120.62 381.67,120.55 382.9,120.47 384.13,120.38 385.36,120.28 386.59,120.17 387.82,120.06 389.05,119.93 390.28,119.79 391.51,119.64 392.75,119.47 393.98,119.29 395.21,119.1 396.44,118.89 397.67,118.66 398.9,118.41 400.13,118.14 401.36,117.86 402.59,117.55 403.82,117.23 405.06,116.88 406.29,116.51 407.52,116.13 408.75,115.72 409.98,115.29 411.21,114.85 412.44,114.39 413.67,113.92 414.9,113.43 416.13,112.93 417.37,112.43 418.6,111.91 419.83,111.4 421.06,110.88 422.29,110.37 423.52,109.86 424.75,109.36 425.98,108.87 427.21,108.4 428.44,107.93 429.68,107.49 430.91,107.06 432.14,106.65 433.37,106.26 434.6,105.89" fill="none" stroke="#b07a3a" stroke-width="1.0" stroke-linejoin="round" />
<polyline points="336.12,119.72 337.35,119.71 338.58,119.71 339.81,119.7 341.04,119.7 342.27,119.69 343.51,119.68 344.74,119.67 345.97,119.66 347.2,119.65 348.43,119.64 349.66,119.62 350.89,119.6 352.12,119.58 353.35,119.56 354.58,119.54 355.82,119.51 357.05,119.48 358.28,119.45 359.51,119.41 360.74,119.37 361.97,119.32 363.2,119.26 364.43,119.2 365.66,119.14 366.89,119.06 368.13,118.97 369.36,118.88 370.59,118.77 371.82,118.65 373.05,118.51 374.28,118.36 375.51,118.2 376.74,118.01 377.97,117.8 379.2,117.57 380.44,117.31 381.67,117.03 382.9,116.71 384.13,116.36 385.36,115.97 386.59,115.55 387.82,115.08 389.05,114.57 390.28,114.02 391.51,113.41 392.75,112.76 393.98,112.05 395.21,111.29 396.44,110.48 397.67,109.61 398.9,108.7 400.13,107.73 401.36,106.72 402.59,105.66 403.82,104.58 405.06,103.46 406.29,102.31 407.52,101.15 408.75,99.99 409.98,98.82 411.21,97.66 412.44,96.52 413.67,95.4 414.9,94.31 416.13,93.26 417.37,92.25 418.6,91.28 419.83,90.37 421.06,89.5 422.29,88.69 423.52,87.93 424.75,87.23 425.98,86.58 427.21,85.97 428.44,85.42 429.68,84.91 430.91,84.45 432.14,84.02 433.37,83.64 434.6,83.29" fill="none" stroke="#a02fb2" stroke-width="1.3" stroke-linejoin="round" />
<polyline points="336.12,119.61 337.35,119.61 338.58,119.6 339.81,119.6 341.04,119.59 342.27,119.59 343.51,119.58 344.74,119.57 345.97,119.56 347.2,119.54 348.43,119.53 349.66,119.52 350.89,119.5 352.12,119.48 353.35,119.45 354.58,119.43 355.82,119.4 357.05,119.37 358.28,119.33 359.51,119.29 360.74,119.24 361.97,119.18 363.2,119.12 364.43,119.05 365.66,118.98 366.89,118.89 368.13,118.79 369.36,118.67 370.59,118.55 371.82,118.4 373.05,118.24 374.28,118.06 375.51,117.85 376.74,117.62 377.97,117.35 379.2,117.06 380.44,116.73 381.67,116.36 382.9,115.95 384.13,115.49 385.36,114.98 386.59,114.41 387.82,113.78 389.05,113.08 390.28,112.31 391.51,111.46 392.75,110.53 393.98,109.51 395.21,108.41 396.44,107.22 397.67,105.93 398.9,104.56 400.13,103.09 401.36,101.55 402.59,99.92 403.82,98.21 405.06,96.45 406.29,94.63 407.52,92.78 408.75,90.9 409.98,89 411.21,87.11 412.44,85.24 413.67,83.4 414.9,81.61 416.13,79.87 417.37,78.2 418.6,76.61 419.83,75.1 421.06,73.68 422.29,72.35 423.52,71.1 424.75,69.95 425.98,68.89 427.21,67.92 428.44,67.03 429.68,66.22 430.91,65.48 432.14,64.81 433.37,64.21 434.6,63.67" fill="none" stroke="#1f4dff" stroke-width="1.3" stroke-linejoin="round" />
<polyline points="336.12,119.66 337.35,119.65 338.58,119.64 339.81,119.63 341.04,119.62 342.27,119.61 343.51,119.59 344.74,119.58 345.97,119.56 347.2,119.54 348.43,119.52 349.66,119.49 350.89,119.46 352.12,119.43 353.35,119.4 354.58,119.35 355.82,119.31 357.05,119.26 358.28,119.2 359.51,119.14 360.74,119.06 361.97,118.98 363.2,118.89 364.43,118.79 365.66,118.67 366.89,118.55 368.13,118.4 369.36,118.24 370.59,118.06 371.82,117.86 373.05,117.63 374.28,117.38 375.51,117.1 376.74,116.79 377.97,116.44 379.2,116.05 380.44,115.62 381.67,115.14 382.9,114.6 384.13,114.01 385.36,113.36 386.59,112.64 387.82,111.85 389.05,110.98 390.28,110.03 391.51,108.99 392.75,107.86 393.98,106.63 395.21,105.3 396.44,103.87 397.67,102.34 398.9,100.7 400.13,98.97 401.36,97.13 402.59,95.2 403.82,93.19 405.06,91.1 406.29,88.94 407.52,86.72 408.75,84.47 409.98,82.19 411.21,79.89 412.44,77.6 413.67,75.34 414.9,73.1 416.13,70.92 417.37,68.8 418.6,66.75 419.83,64.78 421.06,62.9 422.29,61.13 423.52,59.45 424.75,57.87 425.98,56.4 427.21,55.03 428.44,53.76 429.68,52.58 430.91,51.5 432.14,50.52 433.37,49.61 434.6,48.79" fill="none" stroke="#1ec41e" stroke-width="1.3" stroke-linejoin="round" />
<polyline points="336.12,120.86 337.35,120.86 338.58,120.86 339.81,120.86 341.04,120.86 342.27,120.86 343.51,120.86 344.74,120.86 345.97,120.86 347.2,120.86 348.43,120.86 349.66,120.86 350.89,120.86 352.12,120.86 353.35,120.85 354.58,120.85 355.82,120.85 357.05,120.85 358.28,120.85 359.51,120.85 360.74,120.85 361.97,120.85 363.2,120.85 364.43,120.85 365.66,120.84 366.89,120.84 368.13,120.84 369.36,120.84 370.59,120.83 371.82,120.83 373.05,120.82 374.28,120.82 375.51,120.81 376.74,120.8 377.97,120.79 379.2,120.78 380.44,120.76 381.67,120.74 382.9,120.72 384.13,120.69 385.36,120.66 386.59,120.63 387.82,120.58 389.05,120.53 390.28,120.47 391.51,120.4 392.75,120.32 393.98,120.23 395.21,120.12 396.44,119.99 397.67,119.84 398.9,119.67 400.13,119.48 401.36,119.27 402.59,119.02 403.82,118.75 405.06,118.46 406.29,118.14 407.52,117.8 408.75,117.43 409.98,117.06 411.21,116.67 412.44,116.28 413.67,115.89 414.9,115.5 416.13,115.13 417.37,114.78 418.6,114.45 419.83,114.14 421.06,113.86 422.29,113.61 423.52,113.38 424.75,113.17 425.98,112.99 427.21,112.84 428.44,112.7 429.68,112.58 430.91,112.48 432.14,112.39 433.37,112.31 434.6,112.25" fill="none" stroke="#c42a6e" stroke-width="1.0" stroke-linejoin="round" />
<polyline points="336.12,119.66 337.35,119.65 338.58,119.64 339.81,119.62 341.04,119.61 342.27,119.59 343.51,119.58 344.74,119.56 345.97,119.54 347.2,119.51 348.43,119.49 349.66,119.46 350.89,119.43 352.12,119.39 353.35,119.35 354.58,119.31 355.82,119.26 357.05,119.2 358.28,119.14 359.51,119.08 360.74,119 361.97,118.92 363.2,118.83 364.43,118.73 365.66,118.61 366.89,118.49 368.13,118.35 369.36,118.2 370.59,118.03 371.82,117.84 373.05,117.64 374.28,117.41 375.51,117.15 376.74,116.87 377.97,116.57 379.2,116.23 380.44,115.85 381.67,115.44 382.9,114.99 384.13,114.49 385.36,113.94 386.59,113.34 387.82,112.69 389.05,111.97 390.28,111.19 391.51,110.35 392.75,109.43 393.98,108.43 395.21,107.35 396.44,106.19 397.67,104.94 398.9,103.6 400.13,102.17 401.36,100.65 402.59,99.04 403.82,97.34 405.06,95.55 406.29,93.67 407.52,91.72 408.75,89.69 409.98,87.61 411.21,85.46 412.44,83.27 413.67,81.05 414.9,78.8 416.13,76.55 417.37,74.29 418.6,72.05 419.83,69.84 421.06,67.67 422.29,65.55 423.52,63.48 424.75,61.49 425.98,59.57 427.21,57.73 428.44,55.97 429.68,54.31 430.91,52.74 432.14,51.25 433.37,49.86 434.6,48.56" fill="none" stroke="#ff3a1a" stroke-width="1.3" stroke-linejoin="round" />
<line x1="311.1" y1="23.4" x2="311.1" y2="123.8" stroke="#000" stroke-width="1.3" />
<line x1="311.1" y1="123.1" x2="459.6" y2="123.1" stroke="#3a3a3a" stroke-width="2.0" />
<circle cx="336.12" cy="122.2" r="1.98" fill="#000000" stroke="#000000" stroke-width="0.8"/>
<circle cx="360.74" cy="122.9" r="1.98" fill="#000000" stroke="#000000" stroke-width="0.8"/>
<circle cx="385.36" cy="122.7" r="1.98" fill="#000000" stroke="#000000" stroke-width="0.8"/>
<circle cx="409.98" cy="122" r="1.6" fill="#fff" stroke="#000" stroke-width="1.3"/>
<circle cx="434.6" cy="119.9" r="1.6" fill="#fff" stroke="#000" stroke-width="1.3"/>
<circle cx="409.98" cy="110.6" r="1.2" fill="#3ee8c0" stroke="#3ee8c0" stroke-width="0.6"/>
<circle cx="434.6" cy="106" r="1.2" fill="#3ee8c0" stroke="#3ee8c0" stroke-width="0.6"/>
<circle cx="409.98" cy="115.6" r="1.35" fill="#b07a3a" stroke="#b07a3a" stroke-width="0.8"/>
<circle cx="434.6" cy="106" r="1.35" fill="#b07a3a" stroke="#b07a3a" stroke-width="0.8"/>
<line x1="409.98" y1="96.6" x2="409.98" y2="102.1" stroke="#a02fb2" stroke-width="1.4" />
<line x1="407.68" y1="96.6" x2="412.28" y2="96.6" stroke="#a02fb2" stroke-width="1.4" />
<line x1="407.68" y1="102.1" x2="412.28" y2="102.1" stroke="#a02fb2" stroke-width="1.4" />
<line x1="434.6" y1="81.2" x2="434.6" y2="85.6" stroke="#a02fb2" stroke-width="1.4" />
<line x1="432.3" y1="81.2" x2="436.9" y2="81.2" stroke="#a02fb2" stroke-width="1.4" />
<line x1="432.3" y1="85.6" x2="436.9" y2="85.6" stroke="#a02fb2" stroke-width="1.4" />
<line x1="336.12" y1="116.8" x2="336.12" y2="118.8" stroke="#a02fb2" stroke-width="1.4" />
<line x1="333.82" y1="116.8" x2="338.42" y2="116.8" stroke="#a02fb2" stroke-width="1.4" />
<line x1="333.82" y1="118.8" x2="338.42" y2="118.8" stroke="#a02fb2" stroke-width="1.4" />
<polygon points="336.12,119.69 338.01,116.29 334.23,116.29" fill="#a02fb2" stroke="#a02fb2" stroke-width="0.8"/>
<polygon points="409.98,100.99 411.87,97.59 408.09,97.59" fill="#a02fb2" stroke="#a02fb2" stroke-width="0.8"/>
<polygon points="434.6,85.29 436.49,81.89 432.71,81.89" fill="#a02fb2" stroke="#a02fb2" stroke-width="0.8"/>
<line x1="434.6" y1="61" x2="434.6" y2="66.5" stroke="#1f4dff" stroke-width="1.4" />
<line x1="432.3" y1="61" x2="436.9" y2="61" stroke="#1f4dff" stroke-width="1.4" />
<line x1="432.3" y1="66.5" x2="436.9" y2="66.5" stroke="#1f4dff" stroke-width="1.4" />
<polygon points="385.36,114.61 387.25,118.01 383.47,118.01" fill="#1f4dff" stroke="#1f4dff" stroke-width="0.8"/>
<polygon points="409.98,87.71 411.87,91.11 408.09,91.11" fill="#1f4dff" stroke="#1f4dff" stroke-width="0.8"/>
<polygon points="434.6,62.11 436.49,65.51 432.71,65.51" fill="#1f4dff" stroke="#1f4dff" stroke-width="0.8"/>
<line x1="409.98" y1="78.4" x2="409.98" y2="86" stroke="#1ec41e" stroke-width="1.4" />
<line x1="407.68" y1="78.4" x2="412.28" y2="78.4" stroke="#1ec41e" stroke-width="1.4" />
<line x1="407.68" y1="86" x2="412.28" y2="86" stroke="#1ec41e" stroke-width="1.4" />
<line x1="434.6" y1="35.7" x2="434.6" y2="62.2" stroke="#1ec41e" stroke-width="1.4" />
<line x1="432.3" y1="35.7" x2="436.9" y2="35.7" stroke="#1ec41e" stroke-width="1.4" />
<line x1="432.3" y1="62.2" x2="436.9" y2="62.2" stroke="#1ec41e" stroke-width="1.4" />
<line x1="360.74" y1="115.8" x2="360.74" y2="118" stroke="#1ec41e" stroke-width="1.4" />
<line x1="358.44" y1="115.8" x2="363.04" y2="115.8" stroke="#1ec41e" stroke-width="1.4" />
<line x1="358.44" y1="118" x2="363.04" y2="118" stroke="#1ec41e" stroke-width="1.4" />
<rect x="359.12" y="115.18" width="3.24" height="3.24" fill="#1ec41e" stroke="#1ec41e" stroke-width="0.6"/>
<rect x="408.36" y="79.38" width="3.24" height="3.24" fill="#1ec41e" stroke="#1ec41e" stroke-width="0.6"/>
<rect x="432.98" y="46.88" width="3.24" height="3.24" fill="#1ec41e" stroke="#1ec41e" stroke-width="0.6"/>
<polygon points="434.6,110.8 436.1,112.3 434.6,113.8 433.1,112.3" fill="#c42a6e" stroke="#c42a6e" stroke-width="0.6"/>
<polygon points="409.98,115.6 411.48,117.1 409.98,118.6 408.48,117.1" fill="#c42a6e" stroke="#c42a6e" stroke-width="0.6"/>
<circle cx="409.98" cy="87.6" r="1.62" fill="#ff9a20" stroke="#ff9a20" stroke-width="0.8"/>
<line x1="307.6" y1="111.43" x2="311.1" y2="111.43" stroke="#000" stroke-width="1.1" />
<text x="306.7" y="115.43" font-size="7.5" font-weight="bold" text-anchor="end" fill="#000" stroke="#000" stroke-width="0.25">20000</text>
<line x1="307.6" y1="96.76" x2="311.1" y2="96.76" stroke="#000" stroke-width="1.1" />
<text x="306.7" y="100.76" font-size="7.5" font-weight="bold" text-anchor="end" fill="#000" stroke="#000" stroke-width="0.25">40000</text>
<line x1="307.6" y1="82.09" x2="311.1" y2="82.09" stroke="#000" stroke-width="1.1" />
<text x="306.7" y="86.09" font-size="7.5" font-weight="bold" text-anchor="end" fill="#000" stroke="#000" stroke-width="0.25">60000</text>
<line x1="307.6" y1="67.42" x2="311.1" y2="67.42" stroke="#000" stroke-width="1.1" />
<text x="306.7" y="71.42" font-size="7.5" font-weight="bold" text-anchor="end" fill="#000" stroke="#000" stroke-width="0.25">80000</text>
<line x1="307.6" y1="52.75" x2="311.1" y2="52.75" stroke="#000" stroke-width="1.1" />
<text x="306.7" y="56.75" font-size="7.5" font-weight="bold" text-anchor="end" fill="#000" stroke="#000" stroke-width="0.25">100000</text>
<line x1="307.6" y1="38.08" x2="311.1" y2="38.08" stroke="#000" stroke-width="1.1" />
<text x="306.7" y="42.08" font-size="7.5" font-weight="bold" text-anchor="end" fill="#000" stroke="#000" stroke-width="0.25">120000</text>
<line x1="307.6" y1="23.41" x2="311.1" y2="23.41" stroke="#000" stroke-width="1.1" />
<text x="306.7" y="27.41" font-size="7.5" font-weight="bold" text-anchor="end" fill="#000" stroke="#000" stroke-width="0.25">140000</text>
<line x1="311.5" y1="123.1" x2="311.5" y2="125.9" stroke="#000" stroke-width="1.1" />
<text x="311" y="134.4" font-size="7.8" font-weight="bold" text-anchor="middle" fill="#000" stroke="#000" stroke-width="0.25">-4</text>
<line x1="336.12" y1="123.1" x2="336.12" y2="125.9" stroke="#000" stroke-width="1.1" />
<text x="335.62" y="134.4" font-size="7.8" font-weight="bold" text-anchor="middle" fill="#000" stroke="#000" stroke-width="0.25">-3</text>
<line x1="360.74" y1="123.1" x2="360.74" y2="125.9" stroke="#000" stroke-width="1.1" />
<text x="360.24" y="134.4" font-size="7.8" font-weight="bold" text-anchor="middle" fill="#000" stroke="#000" stroke-width="0.25">-2</text>
<line x1="385.36" y1="123.1" x2="385.36" y2="125.9" stroke="#000" stroke-width="1.1" />
<text x="384.86" y="134.4" font-size="7.8" font-weight="bold" text-anchor="middle" fill="#000" stroke="#000" stroke-width="0.25">-1</text>
<line x1="409.98" y1="123.1" x2="409.98" y2="125.9" stroke="#000" stroke-width="1.1" />
<text x="409.48" y="134.4" font-size="7.8" font-weight="bold" text-anchor="middle" fill="#000" stroke="#000" stroke-width="0.25">0</text>
<line x1="434.6" y1="123.1" x2="434.6" y2="125.9" stroke="#000" stroke-width="1.1" />
<text x="434.1" y="134.4" font-size="7.8" font-weight="bold" text-anchor="middle" fill="#000" stroke="#000" stroke-width="0.25">1</text>
<line x1="459.22" y1="123.1" x2="459.22" y2="125.9" stroke="#000" stroke-width="1.1" />
<text x="458.72" y="134.4" font-size="7.8" font-weight="bold" text-anchor="middle" fill="#000" stroke="#000" stroke-width="0.25">2</text>
<text x="279.8" y="74" font-size="8.2" font-weight="bold" text-anchor="middle" fill="#000" transform="rotate(-90 279.8 74)" stroke="#000" stroke-width="0.25">RLU</text>
<text x="385.5" y="144.7" font-size="8.3" font-weight="bold" text-anchor="middle" fill="#000" stroke="#000" stroke-width="0.25">Log Ab (μg/mL)</text>
<line x1="468.6" y1="34.9" x2="479.8" y2="34.9" stroke="#ff3a1a" stroke-width="1.2" />
<circle cx="474.2" cy="34.9" r="1.71" fill="#ff9a20" stroke="#ff9a20" stroke-width="0.8"/>
<text x="485.8" y="37.6" font-size="7.9" font-weight="bold" text-anchor="start" fill="#000" stroke="#000" stroke-width="0.25">DF004+crosslink</text>
<line x1="468.6" y1="44.3" x2="479.8" y2="44.3" stroke="#1ec41e" stroke-width="1.2" />
<rect x="472.49" y="42.59" width="3.42" height="3.42" fill="#1ec41e" stroke="#1ec41e" stroke-width="0.6"/>
<text x="485.8" y="47" font-size="7.9" font-weight="bold" text-anchor="start" fill="#000" stroke="#000" stroke-width="0.25">RG7888+crosslink</text>
<line x1="468.6" y1="53.7" x2="479.8" y2="53.7" stroke="#1f4dff" stroke-width="1.2" />
<polygon points="474.2,51.71 476.19,55.3 472.2,55.3" fill="#1f4dff" stroke="#1f4dff" stroke-width="0.8"/>
<text x="485.8" y="56.4" font-size="7.9" font-weight="bold" text-anchor="start" fill="#000" stroke="#000" stroke-width="0.25">11D4+crosslink</text>
<line x1="468.6" y1="64.7" x2="479.8" y2="64.7" stroke="#a02fb2" stroke-width="1.2" />
<polygon points="474.2,66.7 476.19,63.1 472.2,63.1" fill="#a02fb2" stroke="#a02fb2" stroke-width="0.8"/>
<text x="485.8" y="67.4" font-size="7.9" font-weight="bold" text-anchor="start" fill="#000" stroke="#000" stroke-width="0.25">0562+crosslink</text>
<line x1="468.6" y1="76" x2="479.8" y2="76" stroke="#c42a6e" stroke-width="1.2" />
<polygon points="474.2,74.1 476.1,76 474.2,77.9 472.3,76" fill="#c42a6e" stroke="#c42a6e" stroke-width="0.6"/>
<text x="485.8" y="78.7" font-size="7.9" font-weight="bold" text-anchor="start" fill="#000" stroke="#000" stroke-width="0.25">DF004</text>
<line x1="468.6" y1="87.6" x2="479.8" y2="87.6" stroke="#b07a3a" stroke-width="1.2" />
<circle cx="474.2" cy="87.6" r="1.71" fill="#b07a3a" stroke="#b07a3a" stroke-width="0.8"/>
<text x="485.8" y="90.3" font-size="7.9" font-weight="bold" text-anchor="start" fill="#000" stroke="#000" stroke-width="0.25">RG7888</text>
<line x1="468.6" y1="98.5" x2="479.8" y2="98.5" stroke="#3ee8c0" stroke-width="1.2" />
<circle cx="474.2" cy="98.5" r="1.52" fill="#3ee8c0" stroke="#3ee8c0" stroke-width="0.6"/>
<text x="485.8" y="101.2" font-size="7.9" font-weight="bold" text-anchor="start" fill="#000" stroke="#000" stroke-width="0.25">11D4</text>
<line x1="468.6" y1="110.9" x2="479.8" y2="110.9" stroke="#000000" stroke-width="1.7" />
<polygon points="474.2,108.7 476.5,112.5 471.9,112.5" fill="#fff" stroke="#000" stroke-width="1.3"/>
<text x="485.8" y="113.6" font-size="7.9" font-weight="bold" text-anchor="start" fill="#000" stroke="#000" stroke-width="0.25">0562</text>
<text x="1.6" y="188.6" font-size="19" font-weight="bold" text-anchor="start" fill="#000" >C</text>
<line x1="97.2" y1="188.8" x2="97.2" y2="299" stroke="#000" stroke-width="1.2" />
<line x1="97.2" y1="298.4" x2="460.2" y2="298.4" stroke="#000" stroke-width="1.2" />
<line x1="94.2" y1="298.4" x2="97.2" y2="298.4" stroke="#000" stroke-width="1.1" />
<text x="93.6" y="302" font-size="8.0" font-weight="bold" text-anchor="end" fill="#000" stroke="#000" stroke-width="0.25">0</text>
<line x1="94.2" y1="271" x2="97.2" y2="271" stroke="#000" stroke-width="1.1" />
<text x="93.6" y="274.6" font-size="8.0" font-weight="bold" text-anchor="end" fill="#000" stroke="#000" stroke-width="0.25">10</text>
<line x1="94.2" y1="243.6" x2="97.2" y2="243.6" stroke="#000" stroke-width="1.1" />
<text x="93.6" y="247.2" font-size="8.0" font-weight="bold" text-anchor="end" fill="#000" stroke="#000" stroke-width="0.25">20</text>
<line x1="94.2" y1="216.2" x2="97.2" y2="216.2" stroke="#000" stroke-width="1.1" />
<text x="93.6" y="219.8" font-size="8.0" font-weight="bold" text-anchor="end" fill="#000" stroke="#000" stroke-width="0.25">30</text>
<line x1="94.2" y1="188.8" x2="97.2" y2="188.8" stroke="#000" stroke-width="1.1" />
<text x="93.6" y="192.4" font-size="8.0" font-weight="bold" text-anchor="end" fill="#000" stroke="#000" stroke-width="0.25">40</text>
<text x="79.8" y="243.7" font-size="9.1" font-weight="bold" text-anchor="middle" fill="#000" transform="rotate(-90 79.8 243.7)" stroke="#000" stroke-width="0.25">proliferation rate (%)</text>
<line x1="102.4" y1="298.4" x2="102.4" y2="301" stroke="#000" stroke-width="1.0" />
<line x1="102.4" y1="297.58" x2="102.4" y2="297.03" stroke="#000" stroke-width="1.3" />
<line x1="99.8" y1="297.03" x2="105" y2="297.03" stroke="#000" stroke-width="1.5" />
<rect x="99.85" y="297.58" width="5.1" height="0.82" fill="#fff" stroke="#000" stroke-width="1.35" />
<text x="103.7" y="308.4" font-size="8.0" font-weight="bold" text-anchor="end" fill="#000" transform="rotate(-45 103.7 308.4)" stroke="#000" stroke-width="0.25">only CD4</text>
<line x1="111.69" y1="298.4" x2="111.69" y2="301" stroke="#000" stroke-width="1.0" />
<line x1="111.69" y1="257.3" x2="111.69" y2="249.08" stroke="#000" stroke-width="1.3" />
<line x1="109.09" y1="249.08" x2="114.29" y2="249.08" stroke="#000" stroke-width="1.5" />
<rect x="109.14" y="257.3" width="5.1" height="41.1" fill="#fff" stroke="#000" stroke-width="1.35" />
<text x="112.99" y="308.4" font-size="8.0" font-weight="bold" text-anchor="end" fill="#000" transform="rotate(-45 112.99 308.4)" stroke="#000" stroke-width="0.25">CD28 1μg</text>
<line x1="120.98" y1="298.4" x2="120.98" y2="301" stroke="#000" stroke-width="1.0" />
<line x1="120.98" y1="283.33" x2="120.98" y2="280.04" stroke="#000" stroke-width="1.3" />
<line x1="118.38" y1="280.04" x2="123.58" y2="280.04" stroke="#000" stroke-width="1.5" />
<rect x="118.43" y="283.33" width="5.1" height="15.07" fill="#fff" stroke="#000" stroke-width="1.35" />
<text x="122.28" y="308.4" font-size="8.0" font-weight="bold" text-anchor="end" fill="#000" transform="rotate(-45 122.28 308.4)" stroke="#000" stroke-width="0.25">IgG 10μg</text>
<line x1="130.27" y1="298.4" x2="130.27" y2="301" stroke="#000" stroke-width="1.0" />
<line x1="139.56" y1="298.4" x2="139.56" y2="301" stroke="#000" stroke-width="1.0" />
<line x1="139.56" y1="287.3" x2="139.56" y2="286.07" stroke="#000" stroke-width="1.3" />
<line x1="136.96" y1="286.07" x2="142.16" y2="286.07" stroke="#000" stroke-width="1.5" />
<rect x="137.01" y="287.3" width="5.1" height="11.1" fill="#fff" stroke="#000" stroke-width="1.35" />
<text x="140.86" y="308.4" font-size="8.0" font-weight="bold" text-anchor="end" fill="#000" transform="rotate(-45 140.86 308.4)" stroke="#000" stroke-width="0.25">0</text>
<line x1="148.85" y1="298.4" x2="148.85" y2="301" stroke="#000" stroke-width="1.0" />
<line x1="148.85" y1="293.19" x2="148.85" y2="291.82" stroke="#000" stroke-width="1.3" />
<line x1="146.25" y1="291.82" x2="151.45" y2="291.82" stroke="#000" stroke-width="1.5" />
<rect x="146.3" y="293.19" width="5.1" height="5.21" fill="#fff" stroke="#000" stroke-width="1.35" />
<text x="150.15" y="308.4" font-size="8.0" font-weight="bold" text-anchor="end" fill="#000" transform="rotate(-45 150.15 308.4)" stroke="#000" stroke-width="0.25">0.3125</text>
<line x1="158.14" y1="298.4" x2="158.14" y2="301" stroke="#000" stroke-width="1.0" />
<line x1="158.14" y1="286.62" x2="158.14" y2="286.07" stroke="#000" stroke-width="1.3" />
<line x1="155.54" y1="286.07" x2="160.74" y2="286.07" stroke="#000" stroke-width="1.5" />
<rect x="155.59" y="286.62" width="5.1" height="11.78" fill="#fff" stroke="#000" stroke-width="1.35" />
<text x="159.44" y="308.4" font-size="8.0" font-weight="bold" text-anchor="end" fill="#000" transform="rotate(-45 159.44 308.4)" stroke="#000" stroke-width="0.25">0.625</text>
<line x1="167.43" y1="298.4" x2="167.43" y2="301" stroke="#000" stroke-width="1.0" />
<line x1="167.43" y1="286.34" x2="167.43" y2="282.78" stroke="#000" stroke-width="1.3" />
<line x1="164.83" y1="282.78" x2="170.03" y2="282.78" stroke="#000" stroke-width="1.5" />
<rect x="164.88" y="286.34" width="5.1" height="12.06" fill="#fff" stroke="#000" stroke-width="1.35" />
<text x="168.73" y="308.4" font-size="8.0" font-weight="bold" text-anchor="end" fill="#000" transform="rotate(-45 168.73 308.4)" stroke="#000" stroke-width="0.25">1.25</text>
<line x1="176.72" y1="298.4" x2="176.72" y2="301" stroke="#000" stroke-width="1.0" />
<line x1="176.72" y1="280.32" x2="176.72" y2="273.74" stroke="#000" stroke-width="1.3" />
<line x1="174.12" y1="273.74" x2="179.32" y2="273.74" stroke="#000" stroke-width="1.5" />
<rect x="174.17" y="280.32" width="5.1" height="18.08" fill="#fff" stroke="#000" stroke-width="1.35" />
<text x="178.02" y="308.4" font-size="8.0" font-weight="bold" text-anchor="end" fill="#000" transform="rotate(-45 178.02 308.4)" stroke="#000" stroke-width="0.25">2.5</text>
<line x1="186.01" y1="298.4" x2="186.01" y2="301" stroke="#000" stroke-width="1.0" />
<line x1="186.01" y1="249.63" x2="186.01" y2="246.61" stroke="#000" stroke-width="1.3" />
<line x1="183.41" y1="246.61" x2="188.61" y2="246.61" stroke="#000" stroke-width="1.5" />
<rect x="183.46" y="249.63" width="5.1" height="48.77" fill="#fff" stroke="#000" stroke-width="1.35" />
<text x="187.31" y="308.4" font-size="8.0" font-weight="bold" text-anchor="end" fill="#000" transform="rotate(-45 187.31 308.4)" stroke="#000" stroke-width="0.25">5</text>
<line x1="195.3" y1="298.4" x2="195.3" y2="301" stroke="#000" stroke-width="1.0" />
<line x1="195.3" y1="234.56" x2="195.3" y2="228.26" stroke="#000" stroke-width="1.3" />
<line x1="192.7" y1="228.26" x2="197.9" y2="228.26" stroke="#000" stroke-width="1.5" />
<rect x="192.75" y="234.56" width="5.1" height="63.84" fill="#fff" stroke="#000" stroke-width="1.35" />
<text x="196.6" y="308.4" font-size="8.0" font-weight="bold" text-anchor="end" fill="#000" transform="rotate(-45 196.6 308.4)" stroke="#000" stroke-width="0.25">10</text>
<line x1="204.59" y1="298.4" x2="204.59" y2="301" stroke="#000" stroke-width="1.0" />
<line x1="204.59" y1="211.54" x2="204.59" y2="209.62" stroke="#000" stroke-width="1.3" />
<line x1="201.99" y1="209.62" x2="207.19" y2="209.62" stroke="#000" stroke-width="1.5" />
<rect x="202.04" y="211.54" width="5.1" height="86.86" fill="#fff" stroke="#000" stroke-width="1.35" />
<text x="205.89" y="308.4" font-size="8.0" font-weight="bold" text-anchor="end" fill="#000" transform="rotate(-45 205.89 308.4)" stroke="#000" stroke-width="0.25">20</text>
<line x1="213.88" y1="298.4" x2="213.88" y2="301" stroke="#000" stroke-width="1.0" />
<line x1="223.17" y1="298.4" x2="223.17" y2="301" stroke="#000" stroke-width="1.0" />
<line x1="223.17" y1="287.3" x2="223.17" y2="286.07" stroke="#000" stroke-width="1.3" />
<line x1="220.57" y1="286.07" x2="225.77" y2="286.07" stroke="#000" stroke-width="1.5" />
<rect x="220.62" y="287.3" width="5.1" height="11.1" fill="#fff" stroke="#000" stroke-width="1.35" />
<text x="224.47" y="308.4" font-size="8.0" font-weight="bold" text-anchor="end" fill="#000" transform="rotate(-45 224.47 308.4)" stroke="#000" stroke-width="0.25">0</text>
<line x1="232.46" y1="298.4" x2="232.46" y2="301" stroke="#000" stroke-width="1.0" />
<line x1="232.46" y1="291.82" x2="232.46" y2="288.81" stroke="#000" stroke-width="1.3" />
<line x1="229.86" y1="288.81" x2="235.06" y2="288.81" stroke="#000" stroke-width="1.5" />
<rect x="229.91" y="291.82" width="5.1" height="6.58" fill="#fff" stroke="#000" stroke-width="1.35" />
<text x="233.76" y="308.4" font-size="8.0" font-weight="bold" text-anchor="end" fill="#000" transform="rotate(-45 233.76 308.4)" stroke="#000" stroke-width="0.25">0.00064</text>
<line x1="241.75" y1="298.4" x2="241.75" y2="301" stroke="#000" stroke-width="1.0" />
<line x1="241.75" y1="288.81" x2="241.75" y2="287.99" stroke="#000" stroke-width="1.3" />
<line x1="239.15" y1="287.99" x2="244.35" y2="287.99" stroke="#000" stroke-width="1.5" />
<rect x="239.2" y="288.81" width="5.1" height="9.59" fill="#fff" stroke="#000" stroke-width="1.35" />
<text x="243.05" y="308.4" font-size="8.0" font-weight="bold" text-anchor="end" fill="#000" transform="rotate(-45 243.05 308.4)" stroke="#000" stroke-width="0.25">0.0032</text>
<line x1="251.04" y1="298.4" x2="251.04" y2="301" stroke="#000" stroke-width="1.0" />
<line x1="251.04" y1="286.89" x2="251.04" y2="282.78" stroke="#000" stroke-width="1.3" />
<line x1="248.44" y1="282.78" x2="253.64" y2="282.78" stroke="#000" stroke-width="1.5" />
<rect x="248.49" y="286.89" width="5.1" height="11.51" fill="#fff" stroke="#000" stroke-width="1.35" />
<text x="252.34" y="308.4" font-size="8.0" font-weight="bold" text-anchor="end" fill="#000" transform="rotate(-45 252.34 308.4)" stroke="#000" stroke-width="0.25">0.016</text>
<line x1="260.33" y1="298.4" x2="260.33" y2="301" stroke="#000" stroke-width="1.0" />
<line x1="260.33" y1="274.01" x2="260.33" y2="268.26" stroke="#000" stroke-width="1.3" />
<line x1="257.73" y1="268.26" x2="262.93" y2="268.26" stroke="#000" stroke-width="1.5" />
<rect x="257.78" y="274.01" width="5.1" height="24.39" fill="#fff" stroke="#000" stroke-width="1.35" />
<text x="261.63" y="308.4" font-size="8.0" font-weight="bold" text-anchor="end" fill="#000" transform="rotate(-45 261.63 308.4)" stroke="#000" stroke-width="0.25">0.08</text>
<line x1="269.62" y1="298.4" x2="269.62" y2="301" stroke="#000" stroke-width="1.0" />
<line x1="269.62" y1="239.49" x2="269.62" y2="233.19" stroke="#000" stroke-width="1.3" />
<line x1="267.02" y1="233.19" x2="272.22" y2="233.19" stroke="#000" stroke-width="1.5" />
<rect x="267.07" y="239.49" width="5.1" height="58.91" fill="#fff" stroke="#000" stroke-width="1.35" />
<text x="270.92" y="308.4" font-size="8.0" font-weight="bold" text-anchor="end" fill="#000" transform="rotate(-45 270.92 308.4)" stroke="#000" stroke-width="0.25">0.4</text>
<line x1="278.91" y1="298.4" x2="278.91" y2="301" stroke="#000" stroke-width="1.0" />
<line x1="278.91" y1="222.78" x2="278.91" y2="201.68" stroke="#000" stroke-width="1.3" />
<line x1="276.31" y1="201.68" x2="281.51" y2="201.68" stroke="#000" stroke-width="1.5" />
<rect x="276.36" y="222.78" width="5.1" height="75.62" fill="#fff" stroke="#000" stroke-width="1.35" />
<text x="280.21" y="308.4" font-size="8.0" font-weight="bold" text-anchor="end" fill="#000" transform="rotate(-45 280.21 308.4)" stroke="#000" stroke-width="0.25">2</text>
<line x1="288.2" y1="298.4" x2="288.2" y2="301" stroke="#000" stroke-width="1.0" />
<line x1="288.2" y1="232.64" x2="288.2" y2="223.6" stroke="#000" stroke-width="1.3" />
<line x1="285.6" y1="223.6" x2="290.8" y2="223.6" stroke="#000" stroke-width="1.5" />
<rect x="285.65" y="232.64" width="5.1" height="65.76" fill="#fff" stroke="#000" stroke-width="1.35" />
<text x="289.5" y="308.4" font-size="8.0" font-weight="bold" text-anchor="end" fill="#000" transform="rotate(-45 289.5 308.4)" stroke="#000" stroke-width="0.25">10</text>
<line x1="297.49" y1="298.4" x2="297.49" y2="301" stroke="#000" stroke-width="1.0" />
<line x1="306.78" y1="298.4" x2="306.78" y2="301" stroke="#000" stroke-width="1.0" />
<line x1="306.78" y1="286.89" x2="306.78" y2="286.34" stroke="#000" stroke-width="1.3" />
<line x1="304.18" y1="286.34" x2="309.38" y2="286.34" stroke="#000" stroke-width="1.5" />
<rect x="304.23" y="286.89" width="5.1" height="11.51" fill="#fff" stroke="#000" stroke-width="1.35" />
<text x="308.08" y="308.4" font-size="8.0" font-weight="bold" text-anchor="end" fill="#000" transform="rotate(-45 308.08 308.4)" stroke="#000" stroke-width="0.25">0</text>
<line x1="316.07" y1="298.4" x2="316.07" y2="301" stroke="#000" stroke-width="1.0" />
<line x1="316.07" y1="294.29" x2="316.07" y2="293.74" stroke="#000" stroke-width="1.3" />
<line x1="313.47" y1="293.74" x2="318.67" y2="293.74" stroke="#000" stroke-width="1.5" />
<rect x="313.52" y="294.29" width="5.1" height="4.11" fill="#fff" stroke="#000" stroke-width="1.35" />
<text x="317.37" y="308.4" font-size="8.0" font-weight="bold" text-anchor="end" fill="#000" transform="rotate(-45 317.37 308.4)" stroke="#000" stroke-width="0.25">0.3125</text>
<line x1="325.36" y1="298.4" x2="325.36" y2="301" stroke="#000" stroke-width="1.0" />
<line x1="325.36" y1="283.6" x2="325.36" y2="282.78" stroke="#000" stroke-width="1.3" />
<line x1="322.76" y1="282.78" x2="327.96" y2="282.78" stroke="#000" stroke-width="1.5" />
<rect x="322.81" y="283.6" width="5.1" height="14.8" fill="#fff" stroke="#000" stroke-width="1.35" />
<text x="326.66" y="308.4" font-size="8.0" font-weight="bold" text-anchor="end" fill="#000" transform="rotate(-45 326.66 308.4)" stroke="#000" stroke-width="0.25">0.625</text>
<line x1="334.65" y1="298.4" x2="334.65" y2="301" stroke="#000" stroke-width="1.0" />
<line x1="334.65" y1="284.7" x2="334.65" y2="281.41" stroke="#000" stroke-width="1.3" />
<line x1="332.05" y1="281.41" x2="337.25" y2="281.41" stroke="#000" stroke-width="1.5" />
<rect x="332.1" y="284.7" width="5.1" height="13.7" fill="#fff" stroke="#000" stroke-width="1.35" />
<text x="335.95" y="308.4" font-size="8.0" font-weight="bold" text-anchor="end" fill="#000" transform="rotate(-45 335.95 308.4)" stroke="#000" stroke-width="0.25">1.25</text>
<line x1="343.94" y1="298.4" x2="343.94" y2="301" stroke="#000" stroke-width="1.0" />
<line x1="343.94" y1="283.33" x2="343.94" y2="279.49" stroke="#000" stroke-width="1.3" />
<line x1="341.34" y1="279.49" x2="346.54" y2="279.49" stroke="#000" stroke-width="1.5" />
<rect x="341.39" y="283.33" width="5.1" height="15.07" fill="#fff" stroke="#000" stroke-width="1.35" />
<text x="345.24" y="308.4" font-size="8.0" font-weight="bold" text-anchor="end" fill="#000" transform="rotate(-45 345.24 308.4)" stroke="#000" stroke-width="0.25">2.5</text>
<line x1="353.23" y1="298.4" x2="353.23" y2="301" stroke="#000" stroke-width="1.0" />
<line x1="353.23" y1="271.27" x2="353.23" y2="270.45" stroke="#000" stroke-width="1.3" />
<line x1="350.63" y1="270.45" x2="355.83" y2="270.45" stroke="#000" stroke-width="1.5" />
<rect x="350.68" y="271.27" width="5.1" height="27.13" fill="#fff" stroke="#000" stroke-width="1.35" />
<text x="354.53" y="308.4" font-size="8.0" font-weight="bold" text-anchor="end" fill="#000" transform="rotate(-45 354.53 308.4)" stroke="#000" stroke-width="0.25">5</text>
<line x1="362.52" y1="298.4" x2="362.52" y2="301" stroke="#000" stroke-width="1.0" />
<line x1="362.52" y1="252.64" x2="362.52" y2="238.39" stroke="#000" stroke-width="1.3" />
<line x1="359.92" y1="238.39" x2="365.12" y2="238.39" stroke="#000" stroke-width="1.5" />
<rect x="359.97" y="252.64" width="5.1" height="45.76" fill="#fff" stroke="#000" stroke-width="1.35" />
<text x="363.82" y="308.4" font-size="8.0" font-weight="bold" text-anchor="end" fill="#000" transform="rotate(-45 363.82 308.4)" stroke="#000" stroke-width="0.25">10</text>
<line x1="371.81" y1="298.4" x2="371.81" y2="301" stroke="#000" stroke-width="1.0" />
<line x1="371.81" y1="254.83" x2="371.81" y2="238.94" stroke="#000" stroke-width="1.3" />
<line x1="369.21" y1="238.94" x2="374.41" y2="238.94" stroke="#000" stroke-width="1.5" />
<rect x="369.26" y="254.83" width="5.1" height="43.57" fill="#fff" stroke="#000" stroke-width="1.35" />
<text x="373.11" y="308.4" font-size="8.0" font-weight="bold" text-anchor="end" fill="#000" transform="rotate(-45 373.11 308.4)" stroke="#000" stroke-width="0.25">20</text>
<line x1="381.1" y1="298.4" x2="381.1" y2="301" stroke="#000" stroke-width="1.0" />
<line x1="390.39" y1="298.4" x2="390.39" y2="301" stroke="#000" stroke-width="1.0" />
<line x1="390.39" y1="287.44" x2="390.39" y2="286.89" stroke="#000" stroke-width="1.3" />
<line x1="387.79" y1="286.89" x2="392.99" y2="286.89" stroke="#000" stroke-width="1.5" />
<rect x="387.84" y="287.44" width="5.1" height="10.96" fill="#fff" stroke="#000" stroke-width="1.35" />
<text x="391.69" y="308.4" font-size="8.0" font-weight="bold" text-anchor="end" fill="#000" transform="rotate(-45 391.69 308.4)" stroke="#000" stroke-width="0.25">0</text>
<line x1="399.68" y1="298.4" x2="399.68" y2="301" stroke="#000" stroke-width="1.0" />
<line x1="399.68" y1="292.37" x2="399.68" y2="291.82" stroke="#000" stroke-width="1.3" />
<line x1="397.08" y1="291.82" x2="402.28" y2="291.82" stroke="#000" stroke-width="1.5" />
<rect x="397.13" y="292.37" width="5.1" height="6.03" fill="#fff" stroke="#000" stroke-width="1.35" />
<text x="400.98" y="308.4" font-size="8.0" font-weight="bold" text-anchor="end" fill="#000" transform="rotate(-45 400.98 308.4)" stroke="#000" stroke-width="0.25">0.3125</text>
<line x1="408.97" y1="298.4" x2="408.97" y2="301" stroke="#000" stroke-width="1.0" />
<line x1="408.97" y1="279.22" x2="408.97" y2="272.64" stroke="#000" stroke-width="1.3" />
<line x1="406.37" y1="272.64" x2="411.57" y2="272.64" stroke="#000" stroke-width="1.5" />
<rect x="406.42" y="279.22" width="5.1" height="19.18" fill="#fff" stroke="#000" stroke-width="1.35" />
<text x="410.27" y="308.4" font-size="8.0" font-weight="bold" text-anchor="end" fill="#000" transform="rotate(-45 410.27 308.4)" stroke="#000" stroke-width="0.25">0.625</text>
<line x1="418.26" y1="298.4" x2="418.26" y2="301" stroke="#000" stroke-width="1.0" />
<line x1="418.26" y1="268.81" x2="418.26" y2="256.2" stroke="#000" stroke-width="1.3" />
<line x1="415.66" y1="256.2" x2="420.86" y2="256.2" stroke="#000" stroke-width="1.5" />
<rect x="415.71" y="268.81" width="5.1" height="29.59" fill="#fff" stroke="#000" stroke-width="1.35" />
<text x="419.56" y="308.4" font-size="8.0" font-weight="bold" text-anchor="end" fill="#000" transform="rotate(-45 419.56 308.4)" stroke="#000" stroke-width="0.25">1.25</text>
<line x1="427.55" y1="298.4" x2="427.55" y2="301" stroke="#000" stroke-width="1.0" />
<line x1="427.55" y1="268.53" x2="427.55" y2="264.97" stroke="#000" stroke-width="1.3" />
<line x1="424.95" y1="264.97" x2="430.15" y2="264.97" stroke="#000" stroke-width="1.5" />
<rect x="425" y="268.53" width="5.1" height="29.87" fill="#fff" stroke="#000" stroke-width="1.35" />
<text x="428.85" y="308.4" font-size="8.0" font-weight="bold" text-anchor="end" fill="#000" transform="rotate(-45 428.85 308.4)" stroke="#000" stroke-width="0.25">2.5</text>
<line x1="436.84" y1="298.4" x2="436.84" y2="301" stroke="#000" stroke-width="1.0" />
<line x1="436.84" y1="243.6" x2="436.84" y2="240.86" stroke="#000" stroke-width="1.3" />
<line x1="434.24" y1="240.86" x2="439.44" y2="240.86" stroke="#000" stroke-width="1.5" />
<rect x="434.29" y="243.6" width="5.1" height="54.8" fill="#fff" stroke="#000" stroke-width="1.35" />
<text x="438.14" y="308.4" font-size="8.0" font-weight="bold" text-anchor="end" fill="#000" transform="rotate(-45 438.14 308.4)" stroke="#000" stroke-width="0.25">5</text>
<line x1="446.13" y1="298.4" x2="446.13" y2="301" stroke="#000" stroke-width="1.0" />
<line x1="446.13" y1="226.61" x2="446.13" y2="226.06" stroke="#000" stroke-width="1.3" />
<line x1="443.53" y1="226.06" x2="448.73" y2="226.06" stroke="#000" stroke-width="1.5" />
<rect x="443.58" y="226.61" width="5.1" height="71.79" fill="#fff" stroke="#000" stroke-width="1.35" />
<text x="447.43" y="308.4" font-size="8.0" font-weight="bold" text-anchor="end" fill="#000" transform="rotate(-45 447.43 308.4)" stroke="#000" stroke-width="0.25">10</text>
<line x1="455.42" y1="298.4" x2="455.42" y2="301" stroke="#000" stroke-width="1.0" />
<line x1="455.42" y1="210.72" x2="455.42" y2="198.66" stroke="#000" stroke-width="1.3" />
<line x1="452.82" y1="198.66" x2="458.02" y2="198.66" stroke="#000" stroke-width="1.5" />
<rect x="452.87" y="210.72" width="5.1" height="87.68" fill="#fff" stroke="#000" stroke-width="1.35" />
<text x="456.72" y="308.4" font-size="8.0" font-weight="bold" text-anchor="end" fill="#000" transform="rotate(-45 456.72 308.4)" stroke="#000" stroke-width="0.25">20</text>
<line x1="133.8" y1="190.6" x2="204.5" y2="190.6" stroke="#f59a3c" stroke-width="1.6" />
<text x="164" y="188" font-size="8.7" font-weight="normal" text-anchor="middle" fill="#000" stroke="#000" stroke-width="0.12">DF004</text>
<line x1="219.9" y1="190.6" x2="290.2" y2="190.6" stroke="#33dd33" stroke-width="1.6" />
<text x="254.2" y="188" font-size="8.7" font-weight="normal" text-anchor="middle" fill="#000" stroke="#000" stroke-width="0.12">RG7888</text>
<line x1="303.2" y1="229.2" x2="371.9" y2="229.2" stroke="#2255ee" stroke-width="1.6" />
<text x="336.7" y="226.6" font-size="8.7" font-weight="normal" text-anchor="middle" fill="#000" stroke="#000" stroke-width="0.12">11D4</text>
<line x1="384.3" y1="190.7" x2="454.7" y2="190.7" stroke="#9b36b4" stroke-width="1.6" />
<text x="418.2" y="188.1" font-size="8.7" font-weight="normal" text-anchor="middle" fill="#000" stroke="#000" stroke-width="0.12">0562</text>
<text x="273" y="339.4" font-size="9.0" font-weight="bold" text-anchor="middle" fill="#000" stroke="#000" stroke-width="0.25">Concentration (μg/mL)</text>
<text x="6.8" y="374.8" font-size="17" font-weight="bold" text-anchor="start" fill="#000" >D</text>
<line x1="79.3" y1="507.14" x2="79.3" y2="507.95" stroke="#000000" stroke-width="1.3" />
<line x1="76.7" y1="507.14" x2="81.9" y2="507.14" stroke="#000000" stroke-width="1.3" />
<line x1="76.7" y1="507.95" x2="81.9" y2="507.95" stroke="#000000" stroke-width="1.3" />
<line x1="97" y1="500.85" x2="97" y2="503.28" stroke="#000000" stroke-width="1.3" />
<line x1="94.4" y1="500.85" x2="99.6" y2="500.85" stroke="#000000" stroke-width="1.3" />
<line x1="94.4" y1="503.28" x2="99.6" y2="503.28" stroke="#000000" stroke-width="1.3" />
<line x1="120.6" y1="490.82" x2="120.6" y2="495.69" stroke="#000000" stroke-width="1.3" />
<line x1="118" y1="490.82" x2="123.2" y2="490.82" stroke="#000000" stroke-width="1.3" />
<line x1="118" y1="495.69" x2="123.2" y2="495.69" stroke="#000000" stroke-width="1.3" />
<line x1="138.3" y1="487.57" x2="138.3" y2="493.25" stroke="#000000" stroke-width="1.3" />
<line x1="135.7" y1="487.57" x2="140.9" y2="487.57" stroke="#000000" stroke-width="1.3" />
<line x1="135.7" y1="493.25" x2="140.9" y2="493.25" stroke="#000000" stroke-width="1.3" />
<line x1="161.9" y1="474.09" x2="161.9" y2="489.52" stroke="#000000" stroke-width="1.3" />
<line x1="159.3" y1="474.09" x2="164.5" y2="474.09" stroke="#000000" stroke-width="1.3" />
<line x1="159.3" y1="489.52" x2="164.5" y2="489.52" stroke="#000000" stroke-width="1.3" />
<line x1="185.5" y1="449.08" x2="185.5" y2="472.63" stroke="#000000" stroke-width="1.3" />
<line x1="182.9" y1="449.08" x2="188.1" y2="449.08" stroke="#000000" stroke-width="1.3" />
<line x1="182.9" y1="472.63" x2="188.1" y2="472.63" stroke="#000000" stroke-width="1.3" />
<line x1="203.2" y1="421.39" x2="203.2" y2="450.62" stroke="#000000" stroke-width="1.3" />
<line x1="200.6" y1="421.39" x2="205.8" y2="421.39" stroke="#000000" stroke-width="1.3" />
<line x1="200.6" y1="450.62" x2="205.8" y2="450.62" stroke="#000000" stroke-width="1.3" />
<line x1="220.9" y1="390.37" x2="220.9" y2="432.6" stroke="#000000" stroke-width="1.3" />
<line x1="218.3" y1="390.37" x2="223.5" y2="390.37" stroke="#000000" stroke-width="1.3" />
<line x1="218.3" y1="432.6" x2="223.5" y2="432.6" stroke="#000000" stroke-width="1.3" />
<polyline points="79.3,507.55 97,502.06 120.6,493.25 138.3,490.41 161.9,481.81 185.5,460.86 203.2,436.01 220.9,411.49" fill="none" stroke="#000000" stroke-width="1.3" stroke-linejoin="round" />
<circle cx="79.3" cy="507.55" r="2.07" fill="#000000" stroke="#000000" stroke-width="0.8"/>
<circle cx="97" cy="502.06" r="2.07" fill="#000000" stroke="#000000" stroke-width="0.8"/>
<circle cx="120.6" cy="493.25" r="2.07" fill="#000000" stroke="#000000" stroke-width="0.8"/>
<circle cx="138.3" cy="490.41" r="2.07" fill="#000000" stroke="#000000" stroke-width="0.8"/>
<circle cx="161.9" cy="481.81" r="2.07" fill="#000000" stroke="#000000" stroke-width="0.8"/>
<circle cx="185.5" cy="460.86" r="2.07" fill="#000000" stroke="#000000" stroke-width="0.8"/>
<circle cx="203.2" cy="436.01" r="2.07" fill="#000000" stroke="#000000" stroke-width="0.8"/>
<circle cx="220.9" cy="411.49" r="2.07" fill="#000000" stroke="#000000" stroke-width="0.8"/>
<line x1="79.3" y1="507.14" x2="79.3" y2="507.95" stroke="#18a878" stroke-width="1.3" />
<line x1="76.7" y1="507.14" x2="81.9" y2="507.14" stroke="#18a878" stroke-width="1.3" />
<line x1="76.7" y1="507.95" x2="81.9" y2="507.95" stroke="#18a878" stroke-width="1.3" />
<line x1="97" y1="503.08" x2="97" y2="504.7" stroke="#18a878" stroke-width="1.3" />
<line x1="94.4" y1="503.08" x2="99.6" y2="503.08" stroke="#18a878" stroke-width="1.3" />
<line x1="94.4" y1="504.7" x2="99.6" y2="504.7" stroke="#18a878" stroke-width="1.3" />
<line x1="120.6" y1="494.96" x2="120.6" y2="498.21" stroke="#18a878" stroke-width="1.3" />
<line x1="118" y1="494.96" x2="123.2" y2="494.96" stroke="#18a878" stroke-width="1.3" />
<line x1="118" y1="498.21" x2="123.2" y2="498.21" stroke="#18a878" stroke-width="1.3" />
<line x1="138.3" y1="493.74" x2="138.3" y2="496.99" stroke="#18a878" stroke-width="1.3" />
<line x1="135.7" y1="493.74" x2="140.9" y2="493.74" stroke="#18a878" stroke-width="1.3" />
<line x1="135.7" y1="496.99" x2="140.9" y2="496.99" stroke="#18a878" stroke-width="1.3" />
<line x1="161.9" y1="486.03" x2="161.9" y2="492.52" stroke="#18a878" stroke-width="1.3" />
<line x1="159.3" y1="486.03" x2="164.5" y2="486.03" stroke="#18a878" stroke-width="1.3" />
<line x1="159.3" y1="492.52" x2="164.5" y2="492.52" stroke="#18a878" stroke-width="1.3" />
<line x1="185.5" y1="473.85" x2="185.5" y2="484.4" stroke="#18a878" stroke-width="1.3" />
<line x1="182.9" y1="473.85" x2="188.1" y2="473.85" stroke="#18a878" stroke-width="1.3" />
<line x1="182.9" y1="484.4" x2="188.1" y2="484.4" stroke="#18a878" stroke-width="1.3" />
<line x1="203.2" y1="454.77" x2="203.2" y2="471.41" stroke="#18a878" stroke-width="1.3" />
<line x1="200.6" y1="454.77" x2="205.8" y2="454.77" stroke="#18a878" stroke-width="1.3" />
<line x1="200.6" y1="471.41" x2="205.8" y2="471.41" stroke="#18a878" stroke-width="1.3" />
<line x1="220.9" y1="430" x2="220.9" y2="454.36" stroke="#18a878" stroke-width="1.3" />
<line x1="218.3" y1="430" x2="223.5" y2="430" stroke="#18a878" stroke-width="1.3" />
<line x1="218.3" y1="454.36" x2="223.5" y2="454.36" stroke="#18a878" stroke-width="1.3" />
<polyline points="79.3,507.55 97,503.89 120.6,496.58 138.3,495.37 161.9,489.28 185.5,479.13 203.2,463.09 220.9,442.18" fill="none" stroke="#18a878" stroke-width="1.3" stroke-linejoin="round" />
<rect x="77.23" y="505.48" width="4.14" height="4.14" fill="#18a878" stroke="#18a878" stroke-width="0.6"/>
<rect x="94.93" y="501.82" width="4.14" height="4.14" fill="#18a878" stroke="#18a878" stroke-width="0.6"/>
<rect x="118.53" y="494.51" width="4.14" height="4.14" fill="#18a878" stroke="#18a878" stroke-width="0.6"/>
<rect x="136.23" y="493.3" width="4.14" height="4.14" fill="#18a878" stroke="#18a878" stroke-width="0.6"/>
<rect x="159.83" y="487.21" width="4.14" height="4.14" fill="#18a878" stroke="#18a878" stroke-width="0.6"/>
<rect x="183.43" y="477.06" width="4.14" height="4.14" fill="#18a878" stroke="#18a878" stroke-width="0.6"/>
<rect x="201.13" y="461.02" width="4.14" height="4.14" fill="#18a878" stroke="#18a878" stroke-width="0.6"/>
<rect x="218.83" y="440.11" width="4.14" height="4.14" fill="#18a878" stroke="#18a878" stroke-width="0.6"/>
<line x1="79.3" y1="507.14" x2="79.3" y2="507.95" stroke="#b08440" stroke-width="1.3" />
<line x1="76.7" y1="507.14" x2="81.9" y2="507.14" stroke="#b08440" stroke-width="1.3" />
<line x1="76.7" y1="507.95" x2="81.9" y2="507.95" stroke="#b08440" stroke-width="1.3" />
<line x1="97" y1="503.28" x2="97" y2="504.91" stroke="#b08440" stroke-width="1.3" />
<line x1="94.4" y1="503.28" x2="99.6" y2="503.28" stroke="#b08440" stroke-width="1.3" />
<line x1="94.4" y1="504.91" x2="99.6" y2="504.91" stroke="#b08440" stroke-width="1.3" />
<line x1="120.6" y1="496.99" x2="120.6" y2="501.05" stroke="#b08440" stroke-width="1.3" />
<line x1="118" y1="496.99" x2="123.2" y2="496.99" stroke="#b08440" stroke-width="1.3" />
<line x1="118" y1="501.05" x2="123.2" y2="501.05" stroke="#b08440" stroke-width="1.3" />
<line x1="138.3" y1="494.96" x2="138.3" y2="499.83" stroke="#b08440" stroke-width="1.3" />
<line x1="135.7" y1="494.96" x2="140.9" y2="494.96" stroke="#b08440" stroke-width="1.3" />
<line x1="135.7" y1="499.83" x2="140.9" y2="499.83" stroke="#b08440" stroke-width="1.3" />
<line x1="161.9" y1="491.47" x2="161.9" y2="496.34" stroke="#b08440" stroke-width="1.3" />
<line x1="159.3" y1="491.47" x2="164.5" y2="491.47" stroke="#b08440" stroke-width="1.3" />
<line x1="159.3" y1="496.34" x2="164.5" y2="496.34" stroke="#b08440" stroke-width="1.3" />
<line x1="185.5" y1="482.82" x2="185.5" y2="495" stroke="#b08440" stroke-width="1.3" />
<line x1="182.9" y1="482.82" x2="188.1" y2="482.82" stroke="#b08440" stroke-width="1.3" />
<line x1="182.9" y1="495" x2="188.1" y2="495" stroke="#b08440" stroke-width="1.3" />
<line x1="203.2" y1="469.26" x2="203.2" y2="489.56" stroke="#b08440" stroke-width="1.3" />
<line x1="200.6" y1="469.26" x2="205.8" y2="469.26" stroke="#b08440" stroke-width="1.3" />
<line x1="200.6" y1="489.56" x2="205.8" y2="489.56" stroke="#b08440" stroke-width="1.3" />
<line x1="220.9" y1="442.79" x2="220.9" y2="472.83" stroke="#b08440" stroke-width="1.3" />
<line x1="218.3" y1="442.79" x2="223.5" y2="442.79" stroke="#b08440" stroke-width="1.3" />
<line x1="218.3" y1="472.83" x2="223.5" y2="472.83" stroke="#b08440" stroke-width="1.3" />
<polyline points="79.3,507.55 97,504.09 120.6,499.02 138.3,497.4 161.9,493.9 185.5,488.91 203.2,479.41 220.9,457.81" fill="none" stroke="#b08440" stroke-width="1.3" stroke-linejoin="round" />
<polygon points="79.3,505.13 81.72,509.48 76.88,509.48" fill="#b08440" stroke="#b08440" stroke-width="0.8"/>
<polygon points="97,501.68 99.42,506.03 94.58,506.03" fill="#b08440" stroke="#b08440" stroke-width="0.8"/>
<polygon points="120.6,496.6 123.02,500.95 118.18,500.95" fill="#b08440" stroke="#b08440" stroke-width="0.8"/>
<polygon points="138.3,494.98 140.72,499.33 135.89,499.33" fill="#b08440" stroke="#b08440" stroke-width="0.8"/>
<polygon points="161.9,491.49 164.31,495.84 159.49,495.84" fill="#b08440" stroke="#b08440" stroke-width="0.8"/>
<polygon points="185.5,486.5 187.91,490.84 183.09,490.84" fill="#b08440" stroke="#b08440" stroke-width="0.8"/>
<polygon points="203.2,477 205.62,481.34 200.79,481.34" fill="#b08440" stroke="#b08440" stroke-width="0.8"/>
<polygon points="220.9,455.4 223.31,459.74 218.49,459.74" fill="#b08440" stroke="#b08440" stroke-width="0.8"/>
<line x1="79.3" y1="507.34" x2="79.3" y2="508.15" stroke="#1a3ad8" stroke-width="1.3" />
<line x1="76.7" y1="507.34" x2="81.9" y2="507.34" stroke="#1a3ad8" stroke-width="1.3" />
<line x1="76.7" y1="508.15" x2="81.9" y2="508.15" stroke="#1a3ad8" stroke-width="1.3" />
<line x1="97" y1="503" x2="97" y2="504.62" stroke="#1a3ad8" stroke-width="1.3" />
<line x1="94.4" y1="503" x2="99.6" y2="503" stroke="#1a3ad8" stroke-width="1.3" />
<line x1="94.4" y1="504.62" x2="99.6" y2="504.62" stroke="#1a3ad8" stroke-width="1.3" />
<line x1="120.6" y1="494.88" x2="120.6" y2="499.75" stroke="#1a3ad8" stroke-width="1.3" />
<line x1="118" y1="494.88" x2="123.2" y2="494.88" stroke="#1a3ad8" stroke-width="1.3" />
<line x1="118" y1="499.75" x2="123.2" y2="499.75" stroke="#1a3ad8" stroke-width="1.3" />
<line x1="138.3" y1="493.94" x2="138.3" y2="498.82" stroke="#1a3ad8" stroke-width="1.3" />
<line x1="135.7" y1="493.94" x2="140.9" y2="493.94" stroke="#1a3ad8" stroke-width="1.3" />
<line x1="135.7" y1="498.82" x2="140.9" y2="498.82" stroke="#1a3ad8" stroke-width="1.3" />
<line x1="161.9" y1="496.26" x2="161.9" y2="501.94" stroke="#1a3ad8" stroke-width="1.3" />
<line x1="159.3" y1="496.26" x2="164.5" y2="496.26" stroke="#1a3ad8" stroke-width="1.3" />
<line x1="159.3" y1="501.94" x2="164.5" y2="501.94" stroke="#1a3ad8" stroke-width="1.3" />
<line x1="185.5" y1="491.27" x2="185.5" y2="499.39" stroke="#1a3ad8" stroke-width="1.3" />
<line x1="182.9" y1="491.27" x2="188.1" y2="491.27" stroke="#1a3ad8" stroke-width="1.3" />
<line x1="182.9" y1="499.39" x2="188.1" y2="499.39" stroke="#1a3ad8" stroke-width="1.3" />
<line x1="203.2" y1="476.04" x2="203.2" y2="498.78" stroke="#1a3ad8" stroke-width="1.3" />
<line x1="200.6" y1="476.04" x2="205.8" y2="476.04" stroke="#1a3ad8" stroke-width="1.3" />
<line x1="200.6" y1="498.78" x2="205.8" y2="498.78" stroke="#1a3ad8" stroke-width="1.3" />
<line x1="220.9" y1="465.77" x2="220.9" y2="497.44" stroke="#1a3ad8" stroke-width="1.3" />
<line x1="218.3" y1="465.77" x2="223.5" y2="465.77" stroke="#1a3ad8" stroke-width="1.3" />
<line x1="218.3" y1="497.44" x2="223.5" y2="497.44" stroke="#1a3ad8" stroke-width="1.3" />
<polyline points="79.3,507.75 97,503.81 120.6,497.31 138.3,496.38 161.9,499.1 185.5,495.33 203.2,487.41 220.9,481.6" fill="none" stroke="#1a3ad8" stroke-width="1.3" stroke-linejoin="round" />
<polygon points="79.3,510.16 81.72,505.82 76.88,505.82" fill="#1a3ad8" stroke="#1a3ad8" stroke-width="0.8"/>
<polygon points="97,506.23 99.42,501.88 94.58,501.88" fill="#1a3ad8" stroke="#1a3ad8" stroke-width="0.8"/>
<polygon points="120.6,499.73 123.02,495.38 118.18,495.38" fill="#1a3ad8" stroke="#1a3ad8" stroke-width="0.8"/>
<polygon points="138.3,498.8 140.72,494.45 135.89,494.45" fill="#1a3ad8" stroke="#1a3ad8" stroke-width="0.8"/>
<polygon points="161.9,501.52 164.31,497.17 159.49,497.17" fill="#1a3ad8" stroke="#1a3ad8" stroke-width="0.8"/>
<polygon points="185.5,497.74 187.91,493.39 183.09,493.39" fill="#1a3ad8" stroke="#1a3ad8" stroke-width="0.8"/>
<polygon points="203.2,489.82 205.62,485.48 200.79,485.48" fill="#1a3ad8" stroke="#1a3ad8" stroke-width="0.8"/>
<polygon points="220.9,484.02 223.31,479.67 218.49,479.67" fill="#1a3ad8" stroke="#1a3ad8" stroke-width="0.8"/>
<line x1="61.5" y1="389.4" x2="61.5" y2="511.8" stroke="#000" stroke-width="1.3" />
<line x1="61.5" y1="511.2" x2="244.5" y2="511.2" stroke="#000" stroke-width="1.3" />
<line x1="58" y1="511.2" x2="61.5" y2="511.2" stroke="#000" stroke-width="1.2" />
<text x="57.1" y="514.7" font-size="9.0" font-weight="bold" text-anchor="end" fill="#000" stroke="#000" stroke-width="0.25">0</text>
<line x1="58" y1="490.9" x2="61.5" y2="490.9" stroke="#000" stroke-width="1.2" />
<text x="57.1" y="494.4" font-size="9.0" font-weight="bold" text-anchor="end" fill="#000" stroke="#000" stroke-width="0.25">500</text>
<line x1="58" y1="470.6" x2="61.5" y2="470.6" stroke="#000" stroke-width="1.2" />
<text x="57.1" y="474.1" font-size="9.0" font-weight="bold" text-anchor="end" fill="#000" stroke="#000" stroke-width="0.25">1000</text>
<line x1="58" y1="450.3" x2="61.5" y2="450.3" stroke="#000" stroke-width="1.2" />
<text x="57.1" y="453.8" font-size="9.0" font-weight="bold" text-anchor="end" fill="#000" stroke="#000" stroke-width="0.25">1500</text>
<line x1="58" y1="430" x2="61.5" y2="430" stroke="#000" stroke-width="1.2" />
<text x="57.1" y="433.5" font-size="9.0" font-weight="bold" text-anchor="end" fill="#000" stroke="#000" stroke-width="0.25">2000</text>
<line x1="58" y1="409.7" x2="61.5" y2="409.7" stroke="#000" stroke-width="1.2" />
<text x="57.1" y="413.2" font-size="9.0" font-weight="bold" text-anchor="end" fill="#000" stroke="#000" stroke-width="0.25">2500</text>
<line x1="58" y1="389.4" x2="61.5" y2="389.4" stroke="#000" stroke-width="1.2" />
<text x="57.1" y="392.9" font-size="9.0" font-weight="bold" text-anchor="end" fill="#000" stroke="#000" stroke-width="0.25">3000</text>
<line x1="67.5" y1="511.2" x2="67.5" y2="514.6" stroke="#000" stroke-width="1.2" />
<text x="67.5" y="524.6" font-size="9.2" font-weight="bold" text-anchor="middle" fill="#000" stroke="#000" stroke-width="0.25">5</text>
<line x1="97" y1="511.2" x2="97" y2="514.6" stroke="#000" stroke-width="1.2" />
<text x="97" y="524.6" font-size="9.2" font-weight="bold" text-anchor="middle" fill="#000" stroke="#000" stroke-width="0.25">10</text>
<line x1="126.5" y1="511.2" x2="126.5" y2="514.6" stroke="#000" stroke-width="1.2" />
<text x="126.5" y="524.6" font-size="9.2" font-weight="bold" text-anchor="middle" fill="#000" stroke="#000" stroke-width="0.25">15</text>
<line x1="156" y1="511.2" x2="156" y2="514.6" stroke="#000" stroke-width="1.2" />
<text x="156" y="524.6" font-size="9.2" font-weight="bold" text-anchor="middle" fill="#000" stroke="#000" stroke-width="0.25">20</text>
<line x1="185.5" y1="511.2" x2="185.5" y2="514.6" stroke="#000" stroke-width="1.2" />
<text x="185.5" y="524.6" font-size="9.2" font-weight="bold" text-anchor="middle" fill="#000" stroke="#000" stroke-width="0.25">25</text>
<line x1="215" y1="511.2" x2="215" y2="514.6" stroke="#000" stroke-width="1.2" />
<text x="215" y="524.6" font-size="9.2" font-weight="bold" text-anchor="middle" fill="#000" stroke="#000" stroke-width="0.25">30</text>
<line x1="244.5" y1="511.2" x2="244.5" y2="514.6" stroke="#000" stroke-width="1.2" />
<text x="244.5" y="524.6" font-size="9.2" font-weight="bold" text-anchor="middle" fill="#000" stroke="#000" stroke-width="0.25">35</text>
<text x="32" y="449.8" font-size="10.0" font-weight="bold" text-anchor="middle" fill="#000" transform="rotate(-90 32 449.8)" stroke="#000" stroke-width="0.25">Tumor volume (mm<tspan font-size="6.5" dy="-3.6">3</tspan><tspan dy="3.6">)</tspan></text>
<text x="147.7" y="540.5" font-size="9.8" font-weight="bold" text-anchor="middle" fill="#000" stroke="#000" stroke-width="0.25">Days after MC38 inoculation</text>
<line x1="79.3" y1="487.5" x2="79.3" y2="500.5" stroke="#ff3b1f" stroke-width="1.3" />
<polygon points="77.1,496 79.3,498.8 81.5,496 79.3,502" fill="#ff3b1f" stroke="#ff3b1f" stroke-width="0.7" stroke-linejoin="round"/>
<line x1="97" y1="482" x2="97" y2="496" stroke="#ff3b1f" stroke-width="1.3" />
<polygon points="94.8,491.5 97,494.3 99.2,491.5 97,497.5" fill="#ff3b1f" stroke="#ff3b1f" stroke-width="0.7" stroke-linejoin="round"/>
<line x1="120.6" y1="472.9" x2="120.6" y2="487.3" stroke="#ff3b1f" stroke-width="1.3" />
<polygon points="118.4,482.8 120.6,485.6 122.8,482.8 120.6,488.8" fill="#ff3b1f" stroke="#ff3b1f" stroke-width="0.7" stroke-linejoin="round"/>
<line x1="138.3" y1="466.1" x2="138.3" y2="481.1" stroke="#ff3b1f" stroke-width="1.3" />
<polygon points="136.1,476.6 138.3,479.4 140.5,476.6 138.3,482.6" fill="#ff3b1f" stroke="#ff3b1f" stroke-width="0.7" stroke-linejoin="round"/>
<line x1="161.9" y1="452.3" x2="161.9" y2="467.7" stroke="#ff3b1f" stroke-width="1.3" />
<polygon points="159.7,463.2 161.9,466 164.1,463.2 161.9,469.2" fill="#ff3b1f" stroke="#ff3b1f" stroke-width="0.7" stroke-linejoin="round"/>
<line x1="185.5" y1="430.5" x2="185.5" y2="444.9" stroke="#ff3b1f" stroke-width="1.3" />
<polygon points="183.3,440.4 185.5,443.2 187.7,440.4 185.5,446.4" fill="#ff3b1f" stroke="#ff3b1f" stroke-width="0.7" stroke-linejoin="round"/>
<polyline points="225.8,412.2 228.2,412.2 228.2,442.9 225.8,442.9" fill="none" stroke="#2a2a2a" stroke-width="1.1" stroke-linejoin="round" />
<circle cx="231.4" cy="426.1" r="1.35" fill="#111"/>
<polyline points="235.3,412.7 237.7,412.7 237.7,461.2 235.3,461.2" fill="none" stroke="#2a2a2a" stroke-width="1.1" stroke-linejoin="round" />
<circle cx="242" cy="434.1" r="1.35" fill="#111"/>
<polyline points="245,412.7 247.4,412.7 247.4,480.9 245,480.9" fill="none" stroke="#2a2a2a" stroke-width="1.1" stroke-linejoin="round" />
<circle cx="250.8" cy="447.3" r="1.35" fill="#111"/>
<line x1="73.1" y1="389.2" x2="86.9" y2="389.2" stroke="#000000" stroke-width="1.3" />
<circle cx="80" cy="389.2" r="1.98" fill="#000000" stroke="#000000" stroke-width="0.8"/>
<text x="93.6" y="392.1" font-size="8.2" font-weight="bold" text-anchor="start" fill="#000" stroke="#000" stroke-width="0.25">hIgG 5.0 mg/kg</text>
<line x1="73.1" y1="400.8" x2="86.9" y2="400.8" stroke="#18a878" stroke-width="1.3" />
<rect x="78.02" y="398.82" width="3.96" height="3.96" fill="#18a878" stroke="#18a878" stroke-width="0.6"/>
<text x="93.6" y="403.7" font-size="8.2" font-weight="bold" text-anchor="start" fill="#000" stroke="#000" stroke-width="0.25">DF004 0.3 mg/kg</text>
<line x1="73.1" y1="412.6" x2="86.9" y2="412.6" stroke="#b08440" stroke-width="1.3" />
<polygon points="80,410.29 82.31,414.45 77.69,414.45" fill="#b08440" stroke="#b08440" stroke-width="0.8"/>
<text x="93.6" y="415.5" font-size="8.2" font-weight="bold" text-anchor="start" fill="#000" stroke="#000" stroke-width="0.25">DF004 1.0 mg/kg</text>
<line x1="73.1" y1="423.7" x2="86.9" y2="423.7" stroke="#1a3ad8" stroke-width="1.3" />
<polygon points="80,426.01 82.31,421.85 77.69,421.85" fill="#1a3ad8" stroke="#1a3ad8" stroke-width="0.8"/>
<text x="93.6" y="426.6" font-size="8.2" font-weight="bold" text-anchor="start" fill="#000" stroke="#000" stroke-width="0.25">DF004 5.0 mg/kg</text>
<text x="288.4" y="375" font-size="18" font-weight="bold" text-anchor="start" fill="#000" >E</text>
<line x1="352.8" y1="457.96" x2="352.8" y2="462.03" stroke="#000000" stroke-width="1.5" />
<line x1="350.1" y1="457.96" x2="355.5" y2="457.96" stroke="#000000" stroke-width="1.5" />
<line x1="350.1" y1="462.03" x2="355.5" y2="462.03" stroke="#000000" stroke-width="1.5" />
<line x1="370.5" y1="456.33" x2="370.5" y2="459.59" stroke="#000000" stroke-width="1.5" />
<line x1="367.8" y1="456.33" x2="373.2" y2="456.33" stroke="#000000" stroke-width="1.5" />
<line x1="367.8" y1="459.59" x2="373.2" y2="459.59" stroke="#000000" stroke-width="1.5" />
<line x1="394.1" y1="449.82" x2="394.1" y2="453.08" stroke="#000000" stroke-width="1.5" />
<line x1="391.4" y1="449.82" x2="396.8" y2="449.82" stroke="#000000" stroke-width="1.5" />
<line x1="391.4" y1="453.08" x2="396.8" y2="453.08" stroke="#000000" stroke-width="1.5" />
<line x1="411.8" y1="449.41" x2="411.8" y2="452.67" stroke="#000000" stroke-width="1.5" />
<line x1="409.1" y1="449.41" x2="414.5" y2="449.41" stroke="#000000" stroke-width="1.5" />
<line x1="409.1" y1="452.67" x2="414.5" y2="452.67" stroke="#000000" stroke-width="1.5" />
<line x1="435.4" y1="444.94" x2="435.4" y2="448.19" stroke="#000000" stroke-width="1.5" />
<line x1="432.7" y1="444.94" x2="438.1" y2="444.94" stroke="#000000" stroke-width="1.5" />
<line x1="432.7" y1="448.19" x2="438.1" y2="448.19" stroke="#000000" stroke-width="1.5" />
<line x1="459" y1="447.79" x2="459" y2="451.04" stroke="#000000" stroke-width="1.5" />
<line x1="456.3" y1="447.79" x2="461.7" y2="447.79" stroke="#000000" stroke-width="1.5" />
<line x1="456.3" y1="451.04" x2="461.7" y2="451.04" stroke="#000000" stroke-width="1.5" />
<line x1="476.7" y1="433.54" x2="476.7" y2="439.24" stroke="#000000" stroke-width="1.5" />
<line x1="474" y1="433.54" x2="479.4" y2="433.54" stroke="#000000" stroke-width="1.5" />
<line x1="474" y1="439.24" x2="479.4" y2="439.24" stroke="#000000" stroke-width="1.5" />
<line x1="494.4" y1="435.98" x2="494.4" y2="439.24" stroke="#000000" stroke-width="1.5" />
<line x1="491.7" y1="435.98" x2="497.1" y2="435.98" stroke="#000000" stroke-width="1.5" />
<line x1="491.7" y1="439.24" x2="497.1" y2="439.24" stroke="#000000" stroke-width="1.5" />
<polyline points="352.8,460 370.5,457.96 394.1,451.45 411.8,451.04 435.4,446.57 459,449.41 476.7,436.39 494.4,437.61" fill="none" stroke="#000000" stroke-width="1.7" stroke-linejoin="round" />
<circle cx="352.8" cy="460" r="2.34" fill="#000000" stroke="#000000" stroke-width="0.8"/>
<circle cx="370.5" cy="457.96" r="2.34" fill="#000000" stroke="#000000" stroke-width="0.8"/>
<circle cx="394.1" cy="451.45" r="2.34" fill="#000000" stroke="#000000" stroke-width="0.8"/>
<circle cx="411.8" cy="451.04" r="2.34" fill="#000000" stroke="#000000" stroke-width="0.8"/>
<circle cx="435.4" cy="446.57" r="2.34" fill="#000000" stroke="#000000" stroke-width="0.8"/>
<circle cx="459" cy="449.41" r="2.34" fill="#000000" stroke="#000000" stroke-width="0.8"/>
<circle cx="476.7" cy="436.39" r="2.34" fill="#000000" stroke="#000000" stroke-width="0.8"/>
<circle cx="494.4" cy="437.61" r="2.34" fill="#000000" stroke="#000000" stroke-width="0.8"/>
<line x1="352.8" y1="459.59" x2="352.8" y2="466.92" stroke="#18a878" stroke-width="1.5" />
<line x1="350.1" y1="459.59" x2="355.5" y2="459.59" stroke="#18a878" stroke-width="1.5" />
<line x1="350.1" y1="466.92" x2="355.5" y2="466.92" stroke="#18a878" stroke-width="1.5" />
<line x1="370.5" y1="451.04" x2="370.5" y2="455.93" stroke="#18a878" stroke-width="1.5" />
<line x1="367.8" y1="451.04" x2="373.2" y2="451.04" stroke="#18a878" stroke-width="1.5" />
<line x1="367.8" y1="455.93" x2="373.2" y2="455.93" stroke="#18a878" stroke-width="1.5" />
<line x1="394.1" y1="449.41" x2="394.1" y2="455.11" stroke="#18a878" stroke-width="1.5" />
<line x1="391.4" y1="449.41" x2="396.8" y2="449.41" stroke="#18a878" stroke-width="1.5" />
<line x1="391.4" y1="455.11" x2="396.8" y2="455.11" stroke="#18a878" stroke-width="1.5" />
<line x1="411.8" y1="446.97" x2="411.8" y2="455.93" stroke="#18a878" stroke-width="1.5" />
<line x1="409.1" y1="446.97" x2="414.5" y2="446.97" stroke="#18a878" stroke-width="1.5" />
<line x1="409.1" y1="455.93" x2="414.5" y2="455.93" stroke="#18a878" stroke-width="1.5" />
<line x1="435.4" y1="440.05" x2="435.4" y2="449.82" stroke="#18a878" stroke-width="1.5" />
<line x1="432.7" y1="440.05" x2="438.1" y2="440.05" stroke="#18a878" stroke-width="1.5" />
<line x1="432.7" y1="449.82" x2="438.1" y2="449.82" stroke="#18a878" stroke-width="1.5" />
<line x1="459" y1="448.44" x2="459" y2="453.32" stroke="#18a878" stroke-width="1.5" />
<line x1="456.3" y1="448.44" x2="461.7" y2="448.44" stroke="#18a878" stroke-width="1.5" />
<line x1="456.3" y1="453.32" x2="461.7" y2="453.32" stroke="#18a878" stroke-width="1.5" />
<line x1="476.7" y1="438.43" x2="476.7" y2="443.31" stroke="#18a878" stroke-width="1.5" />
<line x1="474" y1="438.43" x2="479.4" y2="438.43" stroke="#18a878" stroke-width="1.5" />
<line x1="474" y1="443.31" x2="479.4" y2="443.31" stroke="#18a878" stroke-width="1.5" />
<line x1="494.4" y1="435.01" x2="494.4" y2="445.91" stroke="#18a878" stroke-width="1.5" />
<line x1="491.7" y1="435.01" x2="497.1" y2="435.01" stroke="#18a878" stroke-width="1.5" />
<line x1="491.7" y1="445.91" x2="497.1" y2="445.91" stroke="#18a878" stroke-width="1.5" />
<polyline points="352.8,463.25 370.5,453.49 394.1,452.26 411.8,451.45 435.4,444.94 459,450.88 476.7,440.87 494.4,440.46" fill="none" stroke="#18a878" stroke-width="1.7" stroke-linejoin="round" />
<rect x="350.46" y="460.91" width="4.68" height="4.68" fill="#18a878" stroke="#18a878" stroke-width="0.6"/>
<rect x="368.16" y="451.15" width="4.68" height="4.68" fill="#18a878" stroke="#18a878" stroke-width="0.6"/>
<rect x="391.76" y="449.92" width="4.68" height="4.68" fill="#18a878" stroke="#18a878" stroke-width="0.6"/>
<rect x="409.46" y="449.11" width="4.68" height="4.68" fill="#18a878" stroke="#18a878" stroke-width="0.6"/>
<rect x="433.06" y="442.6" width="4.68" height="4.68" fill="#18a878" stroke="#18a878" stroke-width="0.6"/>
<rect x="456.66" y="448.54" width="4.68" height="4.68" fill="#18a878" stroke="#18a878" stroke-width="0.6"/>
<rect x="474.36" y="438.53" width="4.68" height="4.68" fill="#18a878" stroke="#18a878" stroke-width="0.6"/>
<rect x="492.06" y="438.12" width="4.68" height="4.68" fill="#18a878" stroke="#18a878" stroke-width="0.6"/>
<line x1="352.8" y1="462.85" x2="352.8" y2="467.73" stroke="#b08440" stroke-width="1.5" />
<line x1="350.1" y1="462.85" x2="355.5" y2="462.85" stroke="#b08440" stroke-width="1.5" />
<line x1="350.1" y1="467.73" x2="355.5" y2="467.73" stroke="#b08440" stroke-width="1.5" />
<line x1="370.5" y1="457.96" x2="370.5" y2="462.03" stroke="#b08440" stroke-width="1.5" />
<line x1="367.8" y1="457.96" x2="373.2" y2="457.96" stroke="#b08440" stroke-width="1.5" />
<line x1="367.8" y1="462.03" x2="373.2" y2="462.03" stroke="#b08440" stroke-width="1.5" />
<line x1="394.1" y1="453.32" x2="394.1" y2="458.21" stroke="#b08440" stroke-width="1.5" />
<line x1="391.4" y1="453.32" x2="396.8" y2="453.32" stroke="#b08440" stroke-width="1.5" />
<line x1="391.4" y1="458.21" x2="396.8" y2="458.21" stroke="#b08440" stroke-width="1.5" />
<line x1="411.8" y1="452.26" x2="411.8" y2="456.33" stroke="#b08440" stroke-width="1.5" />
<line x1="409.1" y1="452.26" x2="414.5" y2="452.26" stroke="#b08440" stroke-width="1.5" />
<line x1="409.1" y1="456.33" x2="414.5" y2="456.33" stroke="#b08440" stroke-width="1.5" />
<line x1="435.4" y1="448.03" x2="435.4" y2="452.1" stroke="#b08440" stroke-width="1.5" />
<line x1="432.7" y1="448.03" x2="438.1" y2="448.03" stroke="#b08440" stroke-width="1.5" />
<line x1="432.7" y1="452.1" x2="438.1" y2="452.1" stroke="#b08440" stroke-width="1.5" />
<line x1="459" y1="450.64" x2="459" y2="455.52" stroke="#b08440" stroke-width="1.5" />
<line x1="456.3" y1="450.64" x2="461.7" y2="450.64" stroke="#b08440" stroke-width="1.5" />
<line x1="456.3" y1="455.52" x2="461.7" y2="455.52" stroke="#b08440" stroke-width="1.5" />
<line x1="476.7" y1="441.68" x2="476.7" y2="446.57" stroke="#b08440" stroke-width="1.5" />
<line x1="474" y1="441.68" x2="479.4" y2="441.68" stroke="#b08440" stroke-width="1.5" />
<line x1="474" y1="446.57" x2="479.4" y2="446.57" stroke="#b08440" stroke-width="1.5" />
<line x1="494.4" y1="439.65" x2="494.4" y2="444.53" stroke="#b08440" stroke-width="1.5" />
<line x1="491.7" y1="439.65" x2="497.1" y2="439.65" stroke="#b08440" stroke-width="1.5" />
<line x1="491.7" y1="444.53" x2="497.1" y2="444.53" stroke="#b08440" stroke-width="1.5" />
<polyline points="352.8,465.29 370.5,460 394.1,455.76 411.8,454.3 435.4,450.07 459,453.08 476.7,444.12 494.4,442.09" fill="none" stroke="#b08440" stroke-width="1.7" stroke-linejoin="round" />
<polygon points="352.8,462.56 355.53,467.47 350.07,467.47" fill="#b08440" stroke="#b08440" stroke-width="0.8"/>
<polygon points="370.5,457.27 373.23,462.18 367.77,462.18" fill="#b08440" stroke="#b08440" stroke-width="0.8"/>
<polygon points="394.1,453.03 396.83,457.95 391.37,457.95" fill="#b08440" stroke="#b08440" stroke-width="0.8"/>
<polygon points="411.8,451.57 414.53,456.48 409.07,456.48" fill="#b08440" stroke="#b08440" stroke-width="0.8"/>
<polygon points="435.4,447.34 438.13,452.25 432.67,452.25" fill="#b08440" stroke="#b08440" stroke-width="0.8"/>
<polygon points="459,450.35 461.73,455.26 456.27,455.26" fill="#b08440" stroke="#b08440" stroke-width="0.8"/>
<polygon points="476.7,441.39 479.43,446.31 473.97,446.31" fill="#b08440" stroke="#b08440" stroke-width="0.8"/>
<polygon points="494.4,439.36 497.13,444.27 491.67,444.27" fill="#b08440" stroke="#b08440" stroke-width="0.8"/>
<line x1="352.8" y1="458.37" x2="352.8" y2="463.25" stroke="#1a3ad8" stroke-width="1.5" />
<line x1="350.1" y1="458.37" x2="355.5" y2="458.37" stroke="#1a3ad8" stroke-width="1.5" />
<line x1="350.1" y1="463.25" x2="355.5" y2="463.25" stroke="#1a3ad8" stroke-width="1.5" />
<line x1="370.5" y1="456.74" x2="370.5" y2="460.81" stroke="#1a3ad8" stroke-width="1.5" />
<line x1="367.8" y1="456.74" x2="373.2" y2="456.74" stroke="#1a3ad8" stroke-width="1.5" />
<line x1="367.8" y1="460.81" x2="373.2" y2="460.81" stroke="#1a3ad8" stroke-width="1.5" />
<line x1="394.1" y1="447.38" x2="394.1" y2="452.26" stroke="#1a3ad8" stroke-width="1.5" />
<line x1="391.4" y1="447.38" x2="396.8" y2="447.38" stroke="#1a3ad8" stroke-width="1.5" />
<line x1="391.4" y1="452.26" x2="396.8" y2="452.26" stroke="#1a3ad8" stroke-width="1.5" />
<line x1="411.8" y1="447.38" x2="411.8" y2="452.26" stroke="#1a3ad8" stroke-width="1.5" />
<line x1="409.1" y1="447.38" x2="414.5" y2="447.38" stroke="#1a3ad8" stroke-width="1.5" />
<line x1="409.1" y1="452.26" x2="414.5" y2="452.26" stroke="#1a3ad8" stroke-width="1.5" />
<line x1="435.4" y1="443.31" x2="435.4" y2="448.19" stroke="#1a3ad8" stroke-width="1.5" />
<line x1="432.7" y1="443.31" x2="438.1" y2="443.31" stroke="#1a3ad8" stroke-width="1.5" />
<line x1="432.7" y1="448.19" x2="438.1" y2="448.19" stroke="#1a3ad8" stroke-width="1.5" />
<line x1="459" y1="444.12" x2="459" y2="449.01" stroke="#1a3ad8" stroke-width="1.5" />
<line x1="456.3" y1="444.12" x2="461.7" y2="444.12" stroke="#1a3ad8" stroke-width="1.5" />
<line x1="456.3" y1="449.01" x2="461.7" y2="449.01" stroke="#1a3ad8" stroke-width="1.5" />
<line x1="476.7" y1="435.98" x2="476.7" y2="440.87" stroke="#1a3ad8" stroke-width="1.5" />
<line x1="474" y1="435.98" x2="479.4" y2="435.98" stroke="#1a3ad8" stroke-width="1.5" />
<line x1="474" y1="440.87" x2="479.4" y2="440.87" stroke="#1a3ad8" stroke-width="1.5" />
<line x1="494.4" y1="438.43" x2="494.4" y2="443.31" stroke="#1a3ad8" stroke-width="1.5" />
<line x1="491.7" y1="438.43" x2="497.1" y2="438.43" stroke="#1a3ad8" stroke-width="1.5" />
<line x1="491.7" y1="443.31" x2="497.1" y2="443.31" stroke="#1a3ad8" stroke-width="1.5" />
<polyline points="352.8,460.81 370.5,458.78 394.1,449.82 411.8,449.82 435.4,445.75 459,446.57 476.7,438.43 494.4,440.87" fill="none" stroke="#1a3ad8" stroke-width="1.7" stroke-linejoin="round" />
<polygon points="352.8,463.54 355.53,458.63 350.07,458.63" fill="#1a3ad8" stroke="#1a3ad8" stroke-width="0.8"/>
<polygon points="370.5,461.51 373.23,456.59 367.77,456.59" fill="#1a3ad8" stroke="#1a3ad8" stroke-width="0.8"/>
<polygon points="394.1,452.55 396.83,447.64 391.37,447.64" fill="#1a3ad8" stroke="#1a3ad8" stroke-width="0.8"/>
<polygon points="411.8,452.55 414.53,447.64 409.07,447.64" fill="#1a3ad8" stroke="#1a3ad8" stroke-width="0.8"/>
<polygon points="435.4,448.48 438.13,443.57 432.67,443.57" fill="#1a3ad8" stroke="#1a3ad8" stroke-width="0.8"/>
<polygon points="459,449.3 461.73,444.38 456.27,444.38" fill="#1a3ad8" stroke="#1a3ad8" stroke-width="0.8"/>
<polygon points="476.7,441.16 479.43,436.24 473.97,436.24" fill="#1a3ad8" stroke="#1a3ad8" stroke-width="0.8"/>
<polygon points="494.4,443.6 497.13,438.68 491.67,438.68" fill="#1a3ad8" stroke="#1a3ad8" stroke-width="0.8"/>
<line x1="335.2" y1="390.4" x2="335.2" y2="513.1" stroke="#000" stroke-width="1.3" />
<line x1="335.2" y1="512.5" x2="518" y2="512.5" stroke="#000" stroke-width="1.3" />
<line x1="331.7" y1="512.5" x2="335.2" y2="512.5" stroke="#000" stroke-width="1.2" />
<text x="330.2" y="515.9" font-size="9.2" font-weight="bold" text-anchor="end" fill="#000" stroke="#000" stroke-width="0.25">15</text>
<line x1="331.7" y1="471.8" x2="335.2" y2="471.8" stroke="#000" stroke-width="1.2" />
<text x="330.2" y="475.2" font-size="9.2" font-weight="bold" text-anchor="end" fill="#000" stroke="#000" stroke-width="0.25">20</text>
<line x1="331.7" y1="431.1" x2="335.2" y2="431.1" stroke="#000" stroke-width="1.2" />
<text x="330.2" y="434.5" font-size="9.2" font-weight="bold" text-anchor="end" fill="#000" stroke="#000" stroke-width="0.25">25</text>
<line x1="331.7" y1="390.4" x2="335.2" y2="390.4" stroke="#000" stroke-width="1.2" />
<text x="330.2" y="393.8" font-size="9.2" font-weight="bold" text-anchor="end" fill="#000" stroke="#000" stroke-width="0.25">30</text>
<line x1="341" y1="512.5" x2="341" y2="515.9" stroke="#000" stroke-width="1.2" />
<text x="341" y="526" font-size="9.2" font-weight="bold" text-anchor="middle" fill="#000" stroke="#000" stroke-width="0.25">5</text>
<line x1="370.5" y1="512.5" x2="370.5" y2="515.9" stroke="#000" stroke-width="1.2" />
<text x="370.5" y="526" font-size="9.2" font-weight="bold" text-anchor="middle" fill="#000" stroke="#000" stroke-width="0.25">10</text>
<line x1="400" y1="512.5" x2="400" y2="515.9" stroke="#000" stroke-width="1.2" />
<text x="400" y="526" font-size="9.2" font-weight="bold" text-anchor="middle" fill="#000" stroke="#000" stroke-width="0.25">15</text>
<line x1="429.5" y1="512.5" x2="429.5" y2="515.9" stroke="#000" stroke-width="1.2" />
<text x="429.5" y="526" font-size="9.2" font-weight="bold" text-anchor="middle" fill="#000" stroke="#000" stroke-width="0.25">20</text>
<line x1="459" y1="512.5" x2="459" y2="515.9" stroke="#000" stroke-width="1.2" />
<text x="459" y="526" font-size="9.2" font-weight="bold" text-anchor="middle" fill="#000" stroke="#000" stroke-width="0.25">25</text>
<line x1="488.5" y1="512.5" x2="488.5" y2="515.9" stroke="#000" stroke-width="1.2" />
<text x="488.5" y="526" font-size="9.2" font-weight="bold" text-anchor="middle" fill="#000" stroke="#000" stroke-width="0.25">30</text>
<line x1="518" y1="512.5" x2="518" y2="515.9" stroke="#000" stroke-width="1.2" />
<text x="518" y="526" font-size="9.2" font-weight="bold" text-anchor="middle" fill="#000" stroke="#000" stroke-width="0.25">35</text>
<text x="315.8" y="450.9" font-size="10.2" font-weight="bold" text-anchor="middle" fill="#000" transform="rotate(-90 315.8 450.9)" stroke="#000" stroke-width="0.25">Body weight (g)</text>
<text x="430.7" y="542.6" font-size="10.1" font-weight="bold" text-anchor="middle" fill="#000" stroke="#000" stroke-width="0.25">Days after MC38 inoculation</text>
<line x1="352.8" y1="439.2" x2="352.8" y2="449.9" stroke="#ff3040" stroke-width="1.3" />
<polygon points="350.6,445.4 352.8,448.2 355,445.4 352.8,451.4" fill="#ff3040" stroke="#ff3040" stroke-width="0.7" stroke-linejoin="round"/>
<line x1="370.5" y1="434.2" x2="370.5" y2="445" stroke="#ff3040" stroke-width="1.3" />
<polygon points="368.3,440.5 370.5,443.3 372.7,440.5 370.5,446.5" fill="#ff3040" stroke="#ff3040" stroke-width="0.7" stroke-linejoin="round"/>
<line x1="394.1" y1="430.5" x2="394.1" y2="441.2" stroke="#ff3040" stroke-width="1.3" />
<polygon points="391.9,436.7 394.1,439.5 396.3,436.7 394.1,442.7" fill="#ff3040" stroke="#ff3040" stroke-width="0.7" stroke-linejoin="round"/>
<line x1="411.8" y1="425.5" x2="411.8" y2="436.7" stroke="#ff3040" stroke-width="1.3" />
<polygon points="409.6,432.2 411.8,435 414,432.2 411.8,438.2" fill="#ff3040" stroke="#ff3040" stroke-width="0.7" stroke-linejoin="round"/>
<line x1="435.4" y1="425.5" x2="435.4" y2="435.3" stroke="#ff3040" stroke-width="1.3" />
<polygon points="433.2,430.8 435.4,433.6 437.6,430.8 435.4,436.8" fill="#ff3040" stroke="#ff3040" stroke-width="0.7" stroke-linejoin="round"/>
<line x1="459" y1="425.3" x2="459" y2="436.7" stroke="#ff3040" stroke-width="1.3" />
<polygon points="456.8,432.2 459,435 461.2,432.2 459,438.2" fill="#ff3040" stroke="#ff3040" stroke-width="0.7" stroke-linejoin="round"/>
<line x1="348.2" y1="387.4" x2="360.9" y2="387.4" stroke="#000000" stroke-width="1.3" />
<circle cx="354.5" cy="387.4" r="1.98" fill="#000000" stroke="#000000" stroke-width="0.8"/>
<text x="368.2" y="390.3" font-size="8.2" font-weight="bold" text-anchor="start" fill="#000" stroke="#000" stroke-width="0.25">hIgG 5.0 mg/kg</text>
<line x1="348.2" y1="397.2" x2="360.9" y2="397.2" stroke="#18a878" stroke-width="1.3" />
<rect x="352.52" y="395.22" width="3.96" height="3.96" fill="#18a878" stroke="#18a878" stroke-width="0.6"/>
<text x="368.2" y="400.1" font-size="8.2" font-weight="bold" text-anchor="start" fill="#000" stroke="#000" stroke-width="0.25">DF004 0.3 mg/kg</text>
<line x1="348.2" y1="407.7" x2="360.9" y2="407.7" stroke="#b08440" stroke-width="1.3" />
<polygon points="354.5,405.39 356.81,409.55 352.19,409.55" fill="#b08440" stroke="#b08440" stroke-width="0.8"/>
<text x="368.2" y="410.6" font-size="8.2" font-weight="bold" text-anchor="start" fill="#000" stroke="#000" stroke-width="0.25">DF004 1.0 mg/kg</text>
<line x1="348.2" y1="417.7" x2="360.9" y2="417.7" stroke="#1a3ad8" stroke-width="1.3" />
<polygon points="354.5,420.01 356.81,415.85 352.19,415.85" fill="#1a3ad8" stroke="#1a3ad8" stroke-width="0.8"/>
<text x="368.2" y="420.6" font-size="8.2" font-weight="bold" text-anchor="start" fill="#000" stroke="#000" stroke-width="0.25">DF004 5.0 mg/kg</text>
</svg>
</body></html>
